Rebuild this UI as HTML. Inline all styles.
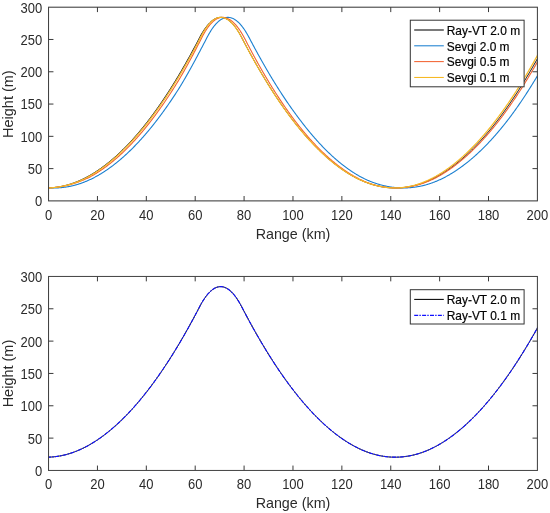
<!DOCTYPE html>
<html><head><meta charset="utf-8"><style>
html,body{margin:0;padding:0;background:#fff;}
svg{display:block;filter:blur(0.3px);}
text{font-family:"Liberation Sans",Arial,Helvetica,sans-serif;font-size:13.9px;fill:#2b2b2b;}
text.lab{font-size:14.3px;}
text.ylab{font-size:13.8px;}
text.leg{font-size:12.6px;fill:#000;stroke:#000;stroke-width:0.18px;}
</style></head><body>
<svg width="550" height="513" viewBox="0 0 550 513">
<rect width="550" height="513" fill="#fff"/>
<defs>
<clipPath id="c1"><rect x="48.55" y="7.2" width="488.84999999999997" height="193.70000000000002"/></clipPath>
<clipPath id="c2"><rect x="48.55" y="276.45" width="488.84999999999997" height="194.0"/></clipPath>
</defs>
<g clip-path="url(#c1)" fill="none" stroke-width="1.1" stroke-linejoin="round">
<path d="M47.00,187.94 L47.50,187.93 L48.00,187.92 L48.50,187.91 L49.00,187.89 L49.50,187.87 L50.00,187.84 L50.50,187.81 L51.00,187.78 L51.50,187.75 L52.00,187.71 L52.50,187.67 L53.00,187.63 L53.50,187.58 L54.00,187.53 L54.50,187.48 L55.00,187.42 L55.50,187.36 L56.00,187.29 L56.50,187.23 L57.00,187.16 L57.50,187.08 L58.00,187.01 L58.50,186.93 L59.00,186.84 L59.50,186.76 L60.00,186.67 L60.50,186.57 L61.00,186.48 L61.50,186.38 L62.00,186.27 L62.50,186.17 L63.00,186.06 L63.50,185.94 L64.00,185.83 L64.50,185.71 L65.00,185.59 L65.50,185.46 L66.00,185.33 L66.50,185.20 L67.00,185.06 L67.50,184.92 L68.00,184.78 L68.50,184.63 L69.00,184.49 L69.50,184.33 L70.00,184.18 L70.50,184.02 L71.00,183.86 L71.50,183.69 L72.00,183.52 L72.50,183.35 L73.00,183.17 L73.50,183.00 L74.00,182.81 L74.50,182.63 L75.00,182.44 L75.50,182.25 L76.00,182.05 L76.50,181.86 L77.00,181.65 L77.50,181.45 L78.00,181.24 L78.50,181.03 L79.00,180.81 L79.50,180.60 L80.00,180.37 L80.50,180.15 L81.00,179.92 L81.50,179.69 L82.00,179.46 L82.50,179.22 L83.00,178.98 L83.50,178.73 L84.00,178.49 L84.50,178.24 L85.00,177.98 L85.50,177.72 L86.00,177.46 L86.50,177.20 L87.00,176.93 L87.50,176.66 L88.00,176.39 L88.50,176.11 L89.00,175.83 L89.50,175.55 L90.00,175.26 L90.50,174.97 L91.00,174.68 L91.50,174.38 L92.00,174.08 L92.50,173.78 L93.00,173.47 L93.50,173.16 L94.00,172.85 L94.50,172.53 L95.00,172.21 L95.50,171.89 L96.00,171.56 L96.50,171.24 L97.00,170.90 L97.50,170.57 L98.00,170.23 L98.50,169.89 L99.00,169.55 L99.50,169.20 L100.00,168.85 L100.50,168.50 L101.00,168.14 L101.50,167.78 L102.00,167.42 L102.50,167.05 L103.00,166.69 L103.50,166.31 L104.00,165.94 L104.50,165.56 L105.00,165.18 L105.50,164.80 L106.00,164.41 L106.50,164.02 L107.00,163.63 L107.50,163.23 L108.00,162.83 L108.50,162.43 L109.00,162.02 L109.50,161.61 L110.00,161.20 L110.50,160.79 L111.00,160.37 L111.50,159.95 L112.00,159.52 L112.50,159.10 L113.00,158.67 L113.50,158.23 L114.00,157.80 L114.50,157.36 L115.00,156.91 L115.50,156.47 L116.00,156.02 L116.50,155.57 L117.00,155.11 L117.50,154.65 L118.00,154.19 L118.50,153.73 L119.00,153.26 L119.50,152.79 L120.00,152.32 L120.50,151.84 L121.00,151.36 L121.50,150.88 L122.00,150.39 L122.50,149.90 L123.00,149.41 L123.50,148.91 L124.00,148.42 L124.50,147.91 L125.00,147.41 L125.50,146.90 L126.00,146.39 L126.50,145.88 L127.00,145.36 L127.50,144.84 L128.00,144.32 L128.50,143.79 L129.00,143.26 L129.50,142.73 L130.00,142.19 L130.50,141.66 L131.00,141.11 L131.50,140.57 L132.00,140.02 L132.50,139.47 L133.00,138.92 L133.50,138.36 L134.00,137.80 L134.50,137.24 L135.00,136.67 L135.50,136.10 L136.00,135.53 L136.50,134.95 L137.00,134.37 L137.50,133.79 L138.00,133.21 L138.50,132.62 L139.00,132.03 L139.50,131.43 L140.00,130.84 L140.50,130.24 L141.00,129.63 L141.50,129.03 L142.00,128.42 L142.50,127.80 L143.00,127.19 L143.50,126.57 L144.00,125.95 L144.50,125.32 L145.00,124.69 L145.50,124.06 L146.00,123.43 L146.50,122.79 L147.00,122.15 L147.50,121.51 L148.00,120.86 L148.50,120.21 L149.00,119.56 L149.50,118.90 L150.00,118.24 L150.50,117.58 L151.00,116.91 L151.50,116.25 L152.00,115.57 L152.50,114.90 L153.00,114.22 L153.50,113.54 L154.00,112.86 L154.50,112.17 L155.00,111.48 L155.50,110.79 L156.00,110.09 L156.50,109.39 L157.00,108.69 L157.50,107.99 L158.00,107.28 L158.50,106.56 L159.00,105.85 L159.50,105.13 L160.00,104.41 L160.50,103.69 L161.00,102.96 L161.50,102.23 L162.00,101.50 L162.50,100.76 L163.00,100.02 L163.50,99.28 L164.00,98.53 L164.50,97.78 L165.00,97.03 L165.50,96.28 L166.00,95.52 L166.50,94.76 L167.00,93.99 L167.50,93.23 L168.00,92.46 L168.50,91.68 L169.00,90.91 L169.50,90.13 L170.00,89.35 L170.50,88.56 L171.00,87.77 L171.50,86.98 L172.00,86.18 L172.50,85.39 L173.00,84.58 L173.50,83.78 L174.00,82.97 L174.50,82.16 L175.00,81.35 L175.50,80.53 L176.00,79.71 L176.50,78.89 L177.00,78.06 L177.50,77.23 L178.00,76.40 L178.50,75.57 L179.00,74.73 L179.50,73.89 L180.00,73.04 L180.50,72.19 L181.00,71.34 L181.50,70.49 L182.00,69.63 L182.50,68.77 L183.00,67.91 L183.50,67.04 L184.00,66.18 L184.50,65.30 L185.00,64.43 L185.50,63.55 L186.00,62.67 L186.50,61.78 L187.00,60.89 L187.50,60.00 L188.00,59.11 L188.50,58.21 L189.00,57.31 L189.50,56.41 L190.00,55.50 L190.50,54.59 L191.00,53.68 L191.50,52.77 L192.00,51.85 L192.50,50.93 L193.00,50.00 L193.50,49.07 L194.00,48.14 L194.50,47.21 L195.00,46.27 L195.50,45.33 L196.00,44.39 L196.50,43.44 L197.00,42.49 L197.50,41.54 L198.00,40.58 L198.50,39.62 L199.00,38.66 L199.50,37.70 L200.00,36.75 L200.50,35.82 L201.00,34.91 L201.50,34.03 L202.00,33.17 L202.50,32.34 L203.00,31.52 L203.50,30.73 L204.00,29.96 L204.50,29.22 L205.00,28.50 L205.50,27.80 L206.00,27.12 L206.50,26.46 L207.00,25.83 L207.50,25.22 L208.00,24.64 L208.50,24.07 L209.00,23.53 L209.50,23.01 L210.00,22.52 L210.50,22.05 L211.00,21.60 L211.50,21.17 L212.00,20.77 L212.50,20.38 L213.00,20.03 L213.50,19.69 L214.00,19.38 L214.50,19.09 L215.00,18.82 L215.50,18.57 L216.00,18.35 L216.50,18.15 L217.00,17.97 L217.50,17.82 L218.00,17.69 L218.50,17.58 L219.00,17.50 L219.50,17.43 L220.00,17.39 L220.50,17.37 L221.00,17.38 L221.50,17.41 L222.00,17.46 L222.50,17.53 L223.00,17.63 L223.50,17.75 L224.00,17.89 L224.50,18.05 L225.00,18.24 L225.50,18.45 L226.00,18.68 L226.50,18.94 L227.00,19.22 L227.50,19.52 L228.00,19.84 L228.50,20.19 L229.00,20.56 L229.50,20.95 L230.00,21.37 L230.50,21.80 L231.00,22.26 L231.50,22.75 L232.00,23.25 L232.50,23.78 L233.00,24.33 L233.50,24.91 L234.00,25.50 L234.50,26.12 L235.00,26.76 L235.50,27.43 L236.00,28.12 L236.50,28.83 L237.00,29.56 L237.50,30.32 L238.00,31.10 L238.50,31.90 L239.00,32.72 L239.50,33.57 L240.00,34.44 L240.50,35.33 L241.00,36.25 L241.50,37.18 L242.00,38.14 L242.50,39.11 L243.00,40.07 L243.50,41.03 L244.00,41.98 L244.50,42.93 L245.00,43.88 L245.50,44.82 L246.00,45.77 L246.50,46.71 L247.00,47.64 L247.50,48.57 L248.00,49.50 L248.50,50.43 L249.00,51.35 L249.50,52.27 L250.00,53.19 L250.50,54.11 L251.00,55.02 L251.50,55.92 L252.00,56.83 L252.50,57.73 L253.00,58.63 L253.50,59.53 L254.00,60.42 L254.50,61.31 L255.00,62.19 L255.50,63.08 L256.00,63.96 L256.50,64.83 L257.00,65.71 L257.50,66.58 L258.00,67.45 L258.50,68.31 L259.00,69.17 L259.50,70.03 L260.00,70.89 L260.50,71.74 L261.00,72.59 L261.50,73.43 L262.00,74.28 L262.50,75.12 L263.00,75.95 L263.50,76.79 L264.00,77.62 L264.50,78.45 L265.00,79.27 L265.50,80.09 L266.00,80.91 L266.50,81.73 L267.00,82.54 L267.50,83.35 L268.00,84.15 L268.50,84.96 L269.00,85.76 L269.50,86.55 L270.00,87.35 L270.50,88.14 L271.00,88.92 L271.50,89.71 L272.00,90.49 L272.50,91.27 L273.00,92.04 L273.50,92.82 L274.00,93.58 L274.50,94.35 L275.00,95.11 L275.50,95.87 L276.00,96.63 L276.50,97.38 L277.00,98.13 L277.50,98.88 L278.00,99.62 L278.50,100.37 L279.00,101.10 L279.50,101.84 L280.00,102.57 L280.50,103.30 L281.00,104.02 L281.50,104.75 L282.00,105.47 L282.50,106.18 L283.00,106.90 L283.50,107.61 L284.00,108.31 L284.50,109.02 L285.00,109.72 L285.50,110.42 L286.00,111.11 L286.50,111.80 L287.00,112.49 L287.50,113.18 L288.00,113.86 L288.50,114.54 L289.00,115.21 L289.50,115.89 L290.00,116.56 L290.50,117.22 L291.00,117.89 L291.50,118.55 L292.00,119.21 L292.50,119.86 L293.00,120.51 L293.50,121.16 L294.00,121.81 L294.50,122.45 L295.00,123.09 L295.50,123.72 L296.00,124.36 L296.50,124.99 L297.00,125.61 L297.50,126.24 L298.00,126.86 L298.50,127.47 L299.00,128.09 L299.50,128.70 L300.00,129.31 L300.50,129.91 L301.00,130.51 L301.50,131.11 L302.00,131.71 L302.50,132.30 L303.00,132.89 L303.50,133.48 L304.00,134.06 L304.50,134.64 L305.00,135.22 L305.50,135.79 L306.00,136.36 L306.50,136.93 L307.00,137.50 L307.50,138.06 L308.00,138.62 L308.50,139.17 L309.00,139.73 L309.50,140.28 L310.00,140.82 L310.50,141.37 L311.00,141.91 L311.50,142.44 L312.00,142.98 L312.50,143.51 L313.00,144.04 L313.50,144.56 L314.00,145.08 L314.50,145.60 L315.00,146.12 L315.50,146.63 L316.00,147.14 L316.50,147.64 L317.00,148.15 L317.50,148.65 L318.00,149.14 L318.50,149.64 L319.00,150.13 L319.50,150.62 L320.00,151.10 L320.50,151.58 L321.00,152.06 L321.50,152.54 L322.00,153.01 L322.50,153.48 L323.00,153.94 L323.50,154.41 L324.00,154.87 L324.50,155.32 L325.00,155.78 L325.50,156.23 L326.00,156.67 L326.50,157.12 L327.00,157.56 L327.50,158.00 L328.00,158.43 L328.50,158.87 L329.00,159.29 L329.50,159.72 L330.00,160.14 L330.50,160.56 L331.00,160.98 L331.50,161.39 L332.00,161.80 L332.50,162.21 L333.00,162.61 L333.50,163.02 L334.00,163.41 L334.50,163.81 L335.00,164.20 L335.50,164.59 L336.00,164.97 L336.50,165.36 L337.00,165.74 L337.50,166.11 L338.00,166.49 L338.50,166.86 L339.00,167.22 L339.50,167.59 L340.00,167.95 L340.50,168.31 L341.00,168.66 L341.50,169.01 L342.00,169.36 L342.50,169.71 L343.00,170.05 L343.50,170.39 L344.00,170.72 L344.50,171.06 L345.00,171.39 L345.50,171.72 L346.00,172.04 L346.50,172.36 L347.00,172.68 L347.50,172.99 L348.00,173.30 L348.50,173.61 L349.00,173.92 L349.50,174.22 L350.00,174.52 L350.50,174.81 L351.00,175.10 L351.50,175.39 L352.00,175.68 L352.50,175.96 L353.00,176.24 L353.50,176.52 L354.00,176.79 L354.50,177.06 L355.00,177.32 L355.50,177.58 L356.00,177.84 L356.50,178.10 L357.00,178.35 L357.50,178.60 L358.00,178.85 L358.50,179.09 L359.00,179.33 L359.50,179.57 L360.00,179.80 L360.50,180.03 L361.00,180.26 L361.50,180.48 L362.00,180.70 L362.50,180.91 L363.00,181.13 L363.50,181.34 L364.00,181.54 L364.50,181.75 L365.00,181.95 L365.50,182.14 L366.00,182.34 L366.50,182.53 L367.00,182.72 L367.50,182.90 L368.00,183.08 L368.50,183.26 L369.00,183.43 L369.50,183.60 L370.00,183.77 L370.50,183.93 L371.00,184.09 L371.50,184.25 L372.00,184.40 L372.50,184.55 L373.00,184.70 L373.50,184.85 L374.00,184.99 L374.50,185.13 L375.00,185.26 L375.50,185.39 L376.00,185.52 L376.50,185.64 L377.00,185.76 L377.50,185.88 L378.00,186.00 L378.50,186.11 L379.00,186.22 L379.50,186.32 L380.00,186.42 L380.50,186.52 L381.00,186.62 L381.50,186.71 L382.00,186.80 L382.50,186.88 L383.00,186.96 L383.50,187.04 L384.00,187.12 L384.50,187.19 L385.00,187.26 L385.50,187.32 L386.00,187.39 L386.50,187.45 L387.00,187.50 L387.50,187.55 L388.00,187.60 L388.50,187.65 L389.00,187.69 L389.50,187.73 L390.00,187.77 L390.50,187.80 L391.00,187.83 L391.50,187.85 L392.00,187.88 L392.50,187.90 L393.00,187.91 L393.50,187.93 L394.00,187.94 L394.50,187.94 L395.00,187.94 L395.50,187.94 L396.00,187.94 L396.50,187.93 L397.00,187.92 L397.50,187.91 L398.00,187.89 L398.50,187.87 L399.00,187.85 L399.50,187.83 L400.00,187.80 L400.50,187.76 L401.00,187.73 L401.50,187.69 L402.00,187.64 L402.50,187.60 L403.00,187.55 L403.50,187.50 L404.00,187.44 L404.50,187.38 L405.00,187.32 L405.50,187.25 L406.00,187.18 L406.50,187.11 L407.00,187.03 L407.50,186.96 L408.00,186.87 L408.50,186.79 L409.00,186.70 L409.50,186.61 L410.00,186.51 L410.50,186.41 L411.00,186.31 L411.50,186.21 L412.00,186.10 L412.50,185.99 L413.00,185.87 L413.50,185.75 L414.00,185.63 L414.50,185.51 L415.00,185.38 L415.50,185.25 L416.00,185.11 L416.50,184.97 L417.00,184.83 L417.50,184.69 L418.00,184.54 L418.50,184.39 L419.00,184.23 L419.50,184.08 L420.00,183.91 L420.50,183.75 L421.00,183.58 L421.50,183.41 L422.00,183.24 L422.50,183.06 L423.00,182.88 L423.50,182.70 L424.00,182.51 L424.50,182.32 L425.00,182.12 L425.50,181.93 L426.00,181.73 L426.50,181.52 L427.00,181.32 L427.50,181.11 L428.00,180.89 L428.50,180.68 L429.00,180.46 L429.50,180.23 L430.00,180.01 L430.50,179.78 L431.00,179.54 L431.50,179.31 L432.00,179.07 L432.50,178.82 L433.00,178.58 L433.50,178.33 L434.00,178.07 L434.50,177.82 L435.00,177.56 L435.50,177.29 L436.00,177.03 L436.50,176.76 L437.00,176.49 L437.50,176.21 L438.00,175.93 L438.50,175.65 L439.00,175.36 L439.50,175.07 L440.00,174.78 L440.50,174.49 L441.00,174.19 L441.50,173.89 L442.00,173.58 L442.50,173.27 L443.00,172.96 L443.50,172.64 L444.00,172.33 L444.50,172.01 L445.00,171.68 L445.50,171.35 L446.00,171.02 L446.50,170.69 L447.00,170.35 L447.50,170.01 L448.00,169.67 L448.50,169.33 L449.00,168.98 L449.50,168.62 L450.00,168.27 L450.50,167.91 L451.00,167.55 L451.50,167.19 L452.00,166.82 L452.50,166.45 L453.00,166.07 L453.50,165.70 L454.00,165.32 L454.50,164.93 L455.00,164.55 L455.50,164.16 L456.00,163.77 L456.50,163.37 L457.00,162.97 L457.50,162.57 L458.00,162.17 L458.50,161.76 L459.00,161.35 L459.50,160.94 L460.00,160.52 L460.50,160.10 L461.00,159.68 L461.50,159.25 L462.00,158.82 L462.50,158.39 L463.00,157.95 L463.50,157.51 L464.00,157.07 L464.50,156.63 L465.00,156.18 L465.50,155.73 L466.00,155.28 L466.50,154.82 L467.00,154.36 L467.50,153.89 L468.00,153.43 L468.50,152.96 L469.00,152.49 L469.50,152.01 L470.00,151.53 L470.50,151.05 L471.00,150.57 L471.50,150.08 L472.00,149.59 L472.50,149.09 L473.00,148.60 L473.50,148.09 L474.00,147.59 L474.50,147.08 L475.00,146.58 L475.50,146.06 L476.00,145.55 L476.50,145.03 L477.00,144.51 L477.50,143.98 L478.00,143.45 L478.50,142.92 L479.00,142.39 L479.50,141.85 L480.00,141.31 L480.50,140.77 L481.00,140.22 L481.50,139.67 L482.00,139.12 L482.50,138.56 L483.00,138.00 L483.50,137.44 L484.00,136.87 L484.50,136.31 L485.00,135.73 L485.50,135.16 L486.00,134.58 L486.50,134.00 L487.00,133.42 L487.50,132.83 L488.00,132.24 L488.50,131.65 L489.00,131.05 L489.50,130.45 L490.00,129.85 L490.50,129.24 L491.00,128.64 L491.50,128.02 L492.00,127.41 L492.50,126.79 L493.00,126.17 L493.50,125.55 L494.00,124.92 L494.50,124.29 L495.00,123.66 L495.50,123.02 L496.00,122.38 L496.50,121.74 L497.00,121.09 L497.50,120.44 L498.00,119.79 L498.50,119.14 L499.00,118.48 L499.50,117.82 L500.00,117.15 L500.50,116.49 L501.00,115.82 L501.50,115.14 L502.00,114.47 L502.50,113.79 L503.00,113.10 L503.50,112.42 L504.00,111.73 L504.50,111.04 L505.00,110.34 L505.50,109.65 L506.00,108.94 L506.50,108.24 L507.00,107.53 L507.50,106.82 L508.00,106.11 L508.50,105.39 L509.00,104.67 L509.50,103.95 L510.00,103.22 L510.50,102.49 L511.00,101.76 L511.50,101.03 L512.00,100.29 L512.50,99.55 L513.00,98.80 L513.50,98.05 L514.00,97.30 L514.50,96.55 L515.00,95.79 L515.50,95.03 L516.00,94.27 L516.50,93.50 L517.00,92.74 L517.50,91.96 L518.00,91.19 L518.50,90.41 L519.00,89.63 L519.50,88.84 L520.00,88.06 L520.50,87.26 L521.00,86.47 L521.50,85.67 L522.00,84.87 L522.50,84.07 L523.00,83.26 L523.50,82.45 L524.00,81.64 L524.50,80.83 L525.00,80.01 L525.50,79.19 L526.00,78.36 L526.50,77.53 L527.00,76.70 L527.50,75.87 L528.00,75.03 L528.50,74.19 L529.00,73.35 L529.50,72.50 L530.00,71.65 L530.50,70.80 L531.00,69.94 L531.50,69.08 L532.00,68.22 L532.50,67.36 L533.00,66.49 L533.50,65.62 L534.00,64.74 L534.50,63.87 L535.00,62.99 L535.50,62.10 L536.00,61.22 L536.50,60.33 L537.00,59.43 L537.50,58.54 L538.00,57.64 L538.50,56.74 L539.00,55.83" stroke="#000000" stroke-width="1.0"/>
<path d="M47.00,187.59 L47.50,187.64 L48.00,187.68 L48.50,187.72 L49.00,187.76 L49.50,187.79 L50.00,187.82 L50.50,187.85 L51.00,187.87 L51.50,187.89 L52.00,187.91 L52.50,187.92 L53.00,187.93 L53.50,187.94 L54.00,187.94 L54.50,187.94 L55.00,187.94 L55.50,187.94 L56.00,187.93 L56.50,187.91 L57.00,187.90 L57.50,187.88 L58.00,187.86 L58.50,187.83 L59.00,187.80 L59.50,187.77 L60.00,187.74 L60.50,187.70 L61.00,187.66 L61.50,187.61 L62.00,187.56 L62.50,187.51 L63.00,187.45 L63.50,187.40 L64.00,187.33 L64.50,187.27 L65.00,187.20 L65.50,187.13 L66.00,187.06 L66.50,186.98 L67.00,186.90 L67.50,186.81 L68.00,186.72 L68.50,186.63 L69.00,186.54 L69.50,186.44 L70.00,186.34 L70.50,186.23 L71.00,186.13 L71.50,186.02 L72.00,185.90 L72.50,185.79 L73.00,185.66 L73.50,185.54 L74.00,185.41 L74.50,185.28 L75.00,185.15 L75.50,185.01 L76.00,184.87 L76.50,184.73 L77.00,184.58 L77.50,184.43 L78.00,184.28 L78.50,184.12 L79.00,183.96 L79.50,183.80 L80.00,183.63 L80.50,183.46 L81.00,183.29 L81.50,183.11 L82.00,182.93 L82.50,182.75 L83.00,182.56 L83.50,182.37 L84.00,182.18 L84.50,181.99 L85.00,181.79 L85.50,181.58 L86.00,181.38 L86.50,181.17 L87.00,180.96 L87.50,180.74 L88.00,180.52 L88.50,180.30 L89.00,180.07 L89.50,179.84 L90.00,179.61 L90.50,179.38 L91.00,179.14 L91.50,178.90 L92.00,178.65 L92.50,178.40 L93.00,178.15 L93.50,177.90 L94.00,177.64 L94.50,177.38 L95.00,177.11 L95.50,176.84 L96.00,176.57 L96.50,176.30 L97.00,176.02 L97.50,175.74 L98.00,175.45 L98.50,175.17 L99.00,174.88 L99.50,174.58 L100.00,174.28 L100.50,173.98 L101.00,173.68 L101.50,173.37 L102.00,173.06 L102.50,172.75 L103.00,172.43 L103.50,172.11 L104.00,171.79 L104.50,171.46 L105.00,171.13 L105.50,170.80 L106.00,170.46 L106.50,170.13 L107.00,169.78 L107.50,169.44 L108.00,169.09 L108.50,168.74 L109.00,168.39 L109.50,168.03 L110.00,167.67 L110.50,167.31 L111.00,166.94 L111.50,166.57 L112.00,166.20 L112.50,165.82 L113.00,165.45 L113.50,165.06 L114.00,164.68 L114.50,164.29 L115.00,163.90 L115.50,163.51 L116.00,163.11 L116.50,162.71 L117.00,162.31 L117.50,161.90 L118.00,161.49 L118.50,161.08 L119.00,160.66 L119.50,160.25 L120.00,159.82 L120.50,159.40 L121.00,158.97 L121.50,158.54 L122.00,158.11 L122.50,157.67 L123.00,157.23 L123.50,156.79 L124.00,156.34 L124.50,155.89 L125.00,155.44 L125.50,154.98 L126.00,154.52 L126.50,154.06 L127.00,153.60 L127.50,153.13 L128.00,152.66 L128.50,152.18 L129.00,151.71 L129.50,151.23 L130.00,150.74 L130.50,150.26 L131.00,149.77 L131.50,149.27 L132.00,148.78 L132.50,148.28 L133.00,147.78 L133.50,147.27 L134.00,146.76 L134.50,146.25 L135.00,145.74 L135.50,145.22 L136.00,144.70 L136.50,144.18 L137.00,143.65 L137.50,143.12 L138.00,142.59 L138.50,142.05 L139.00,141.51 L139.50,140.97 L140.00,140.43 L140.50,139.88 L141.00,139.33 L141.50,138.77 L142.00,138.22 L142.50,137.65 L143.00,137.09 L143.50,136.52 L144.00,135.95 L144.50,135.38 L145.00,134.81 L145.50,134.23 L146.00,133.64 L146.50,133.06 L147.00,132.47 L147.50,131.88 L148.00,131.29 L148.50,130.69 L149.00,130.09 L149.50,129.48 L150.00,128.88 L150.50,128.27 L151.00,127.65 L151.50,127.04 L152.00,126.42 L152.50,125.80 L153.00,125.17 L153.50,124.54 L154.00,123.91 L154.50,123.28 L155.00,122.64 L155.50,122.00 L156.00,121.35 L156.50,120.71 L157.00,120.06 L157.50,119.40 L158.00,118.75 L158.50,118.09 L159.00,117.43 L159.50,116.76 L160.00,116.09 L160.50,115.42 L161.00,114.75 L161.50,114.07 L162.00,113.39 L162.50,112.70 L163.00,112.02 L163.50,111.33 L164.00,110.63 L164.50,109.94 L165.00,109.24 L165.50,108.53 L166.00,107.83 L166.50,107.12 L167.00,106.41 L167.50,105.69 L168.00,104.98 L168.50,104.25 L169.00,103.53 L169.50,102.80 L170.00,102.07 L170.50,101.34 L171.00,100.60 L171.50,99.86 L172.00,99.12 L172.50,98.38 L173.00,97.63 L173.50,96.87 L174.00,96.12 L174.50,95.36 L175.00,94.60 L175.50,93.84 L176.00,93.07 L176.50,92.30 L177.00,91.53 L177.50,90.75 L178.00,89.97 L178.50,89.19 L179.00,88.40 L179.50,87.61 L180.00,86.82 L180.50,85.99 L181.00,85.15 L181.50,84.31 L182.00,83.47 L182.50,82.63 L183.00,81.78 L183.50,80.93 L184.00,80.07 L184.50,79.21 L185.00,78.35 L185.50,77.49 L186.00,76.62 L186.50,75.75 L187.00,74.87 L187.50,73.99 L188.00,73.11 L188.50,72.22 L189.00,71.34 L189.50,70.44 L190.00,69.55 L190.50,68.65 L191.00,67.75 L191.50,66.84 L192.00,65.93 L192.50,65.02 L193.00,64.10 L193.50,63.18 L194.00,62.26 L194.50,61.33 L195.00,60.41 L195.50,59.47 L196.00,58.54 L196.50,57.60 L197.00,56.65 L197.50,55.71 L198.00,54.76 L198.50,53.80 L199.00,52.85 L199.50,51.89 L200.00,50.93 L200.50,49.99 L201.00,49.05 L201.50,48.11 L202.00,47.17 L202.50,46.22 L203.00,45.27 L203.50,44.32 L204.00,43.36 L204.50,42.40 L205.00,41.44 L205.50,40.47 L206.00,39.50 L206.50,38.53 L207.00,37.55 L207.50,36.60 L208.00,35.66 L208.50,34.75 L209.00,33.86 L209.50,33.00 L210.00,32.16 L210.50,31.34 L211.00,30.55 L211.50,29.78 L212.00,29.03 L212.50,28.31 L213.00,27.60 L213.50,26.93 L214.00,26.27 L214.50,25.64 L215.00,25.03 L215.50,24.45 L216.00,23.89 L216.50,23.35 L217.00,22.83 L217.50,22.34 L218.00,21.87 L218.50,21.43 L219.00,21.00 L219.50,20.60 L220.00,20.23 L220.50,19.88 L221.00,19.55 L221.50,19.24 L222.00,18.96 L222.50,18.70 L223.00,18.46 L223.50,18.25 L224.00,18.06 L224.50,17.89 L225.00,17.75 L225.50,17.63 L226.00,17.53 L226.50,17.46 L227.00,17.41 L227.50,17.38 L228.00,17.38 L228.50,17.39 L229.00,17.43 L229.50,17.50 L230.00,17.58 L230.50,17.69 L231.00,17.82 L231.50,17.97 L232.00,18.15 L232.50,18.35 L233.00,18.57 L233.50,18.81 L234.00,19.07 L234.50,19.36 L235.00,19.67 L235.50,20.00 L236.00,20.35 L236.50,20.73 L237.00,21.13 L237.50,21.55 L238.00,21.99 L238.50,22.46 L239.00,22.94 L239.50,23.45 L240.00,23.98 L240.50,24.54 L241.00,25.12 L241.50,25.72 L242.00,26.34 L242.50,26.98 L243.00,27.65 L243.50,28.33 L244.00,29.05 L244.50,29.78 L245.00,30.53 L245.50,31.31 L246.00,32.11 L246.50,32.93 L247.00,33.78 L247.50,34.65 L248.00,35.54 L248.50,36.45 L249.00,37.38 L249.50,38.33 L250.00,39.29 L250.50,40.24 L251.00,41.19 L251.50,42.13 L252.00,43.07 L252.50,44.01 L253.00,44.95 L253.50,45.88 L254.00,46.81 L254.50,47.74 L255.00,48.66 L255.50,49.58 L256.00,50.50 L256.50,51.41 L257.00,52.33 L257.50,53.23 L258.00,54.14 L258.50,55.04 L259.00,55.94 L259.50,56.84 L260.00,57.73 L260.50,58.63 L261.00,59.53 L261.50,60.42 L262.00,61.31 L262.50,62.19 L263.00,63.08 L263.50,63.96 L264.00,64.83 L264.50,65.71 L265.00,66.58 L265.50,67.45 L266.00,68.31 L266.50,69.17 L267.00,70.03 L267.50,70.89 L268.00,71.74 L268.50,72.59 L269.00,73.43 L269.50,74.28 L270.00,75.12 L270.50,75.95 L271.00,76.79 L271.50,77.62 L272.00,78.45 L272.50,79.27 L273.00,80.09 L273.50,80.91 L274.00,81.73 L274.50,82.54 L275.00,83.35 L275.50,84.15 L276.00,84.96 L276.50,85.76 L277.00,86.55 L277.50,87.35 L278.00,88.14 L278.50,88.92 L279.00,89.71 L279.50,90.49 L280.00,91.27 L280.50,92.04 L281.00,92.82 L281.50,93.58 L282.00,94.35 L282.50,95.11 L283.00,95.87 L283.50,96.63 L284.00,97.38 L284.50,98.13 L285.00,98.88 L285.50,99.62 L286.00,100.37 L286.50,101.10 L287.00,101.84 L287.50,102.57 L288.00,103.30 L288.50,104.02 L289.00,104.75 L289.50,105.47 L290.00,106.18 L290.50,106.90 L291.00,107.61 L291.50,108.31 L292.00,109.02 L292.50,109.72 L293.00,110.42 L293.50,111.11 L294.00,111.80 L294.50,112.49 L295.00,113.18 L295.50,113.86 L296.00,114.54 L296.50,115.21 L297.00,115.89 L297.50,116.56 L298.00,117.22 L298.50,117.89 L299.00,118.55 L299.50,119.21 L300.00,119.86 L300.50,120.52 L301.00,121.18 L301.50,121.84 L302.00,122.49 L302.50,123.14 L303.00,123.79 L303.50,124.43 L304.00,125.07 L304.50,125.71 L305.00,126.34 L305.50,126.98 L306.00,127.60 L306.50,128.23 L307.00,128.85 L307.50,129.47 L308.00,130.08 L308.50,130.69 L309.00,131.30 L309.50,131.91 L310.00,132.51 L310.50,133.11 L311.00,133.70 L311.50,134.30 L312.00,134.88 L312.50,135.47 L313.00,136.05 L313.50,136.63 L314.00,137.21 L314.50,137.78 L315.00,138.35 L315.50,138.92 L316.00,139.48 L316.50,140.04 L317.00,140.60 L317.50,141.16 L318.00,141.71 L318.50,142.25 L319.00,142.80 L319.50,143.34 L320.00,143.88 L320.50,144.41 L321.00,144.94 L321.50,145.47 L322.00,146.00 L322.50,146.52 L323.00,147.04 L323.50,147.55 L324.00,148.07 L324.50,148.58 L325.00,149.08 L325.50,149.58 L326.00,150.08 L326.50,150.58 L327.00,151.07 L327.50,151.56 L328.00,152.05 L328.50,152.53 L329.00,153.01 L329.50,153.49 L330.00,153.97 L330.50,154.44 L331.00,154.90 L331.50,155.37 L332.00,155.83 L332.50,156.29 L333.00,156.74 L333.50,157.19 L334.00,157.64 L334.50,158.09 L335.00,158.53 L335.50,158.97 L336.00,159.41 L336.50,159.84 L337.00,160.27 L337.50,160.69 L338.00,161.12 L338.50,161.54 L339.00,161.95 L339.50,162.37 L340.00,162.78 L340.50,163.18 L341.00,163.58 L341.50,163.98 L342.00,164.37 L342.50,164.77 L343.00,165.16 L343.50,165.54 L344.00,165.92 L344.50,166.30 L345.00,166.68 L345.50,167.05 L346.00,167.42 L346.50,167.79 L347.00,168.15 L347.50,168.51 L348.00,168.87 L348.50,169.22 L349.00,169.57 L349.50,169.92 L350.00,170.27 L350.50,170.61 L351.00,170.95 L351.50,171.28 L352.00,171.61 L352.50,171.94 L353.00,172.27 L353.50,172.59 L354.00,172.91 L354.50,173.23 L355.00,173.54 L355.50,173.85 L356.00,174.15 L356.50,174.46 L357.00,174.76 L357.50,175.05 L358.00,175.34 L358.50,175.63 L359.00,175.92 L359.50,176.20 L360.00,176.48 L360.50,176.76 L361.00,177.03 L361.50,177.30 L362.00,177.57 L362.50,177.83 L363.00,178.09 L363.50,178.34 L364.00,178.60 L364.50,178.84 L365.00,179.09 L365.50,179.32 L366.00,179.55 L366.50,179.77 L367.00,179.99 L367.50,180.21 L368.00,180.42 L368.50,180.63 L369.00,180.84 L369.50,181.04 L370.00,181.25 L370.50,181.45 L371.00,181.64 L371.50,181.84 L372.00,182.03 L372.50,182.21 L373.00,182.40 L373.50,182.58 L374.00,182.76 L374.50,182.93 L375.00,183.10 L375.50,183.27 L376.00,183.44 L376.50,183.60 L377.00,183.76 L377.50,183.92 L378.00,184.07 L378.50,184.22 L379.00,184.37 L379.50,184.52 L380.00,184.66 L380.50,184.80 L381.00,184.93 L381.50,185.07 L382.00,185.20 L382.50,185.32 L383.00,185.45 L383.50,185.57 L384.00,185.69 L384.50,185.80 L385.00,185.91 L385.50,186.02 L386.00,186.13 L386.50,186.23 L387.00,186.33 L387.50,186.43 L388.00,186.52 L388.50,186.61 L389.00,186.70 L389.50,186.79 L390.00,186.87 L390.50,186.95 L391.00,187.02 L391.50,187.10 L392.00,187.17 L392.50,187.23 L393.00,187.30 L393.50,187.36 L394.00,187.42 L394.50,187.47 L395.00,187.52 L395.50,187.57 L396.00,187.62 L396.50,187.66 L397.00,187.70 L397.50,187.74 L398.00,187.77 L398.50,187.80 L399.00,187.83 L399.50,187.85 L400.00,187.88 L400.50,187.90 L401.00,187.91 L401.50,187.92 L402.00,187.93 L402.50,187.94 L403.00,187.94 L403.50,187.94 L404.00,187.94 L404.50,187.94 L405.00,187.93 L405.50,187.92 L406.00,187.90 L406.50,187.89 L407.00,187.86 L407.50,187.84 L408.00,187.81 L408.50,187.79 L409.00,187.75 L409.50,187.72 L410.00,187.68 L410.50,187.64 L411.00,187.59 L411.50,187.54 L412.00,187.49 L412.50,187.44 L413.00,187.38 L413.50,187.32 L414.00,187.26 L414.50,187.19 L415.00,187.13 L415.50,187.05 L416.00,186.98 L416.50,186.90 L417.00,186.82 L417.50,186.73 L418.00,186.65 L418.50,186.56 L419.00,186.46 L419.50,186.37 L420.00,186.27 L420.50,186.17 L421.00,186.06 L421.50,185.95 L422.00,185.84 L422.50,185.73 L423.00,185.61 L423.50,185.49 L424.00,185.37 L424.50,185.24 L425.00,185.11 L425.50,184.97 L426.00,184.84 L426.50,184.69 L427.00,184.55 L427.50,184.40 L428.00,184.25 L428.50,184.09 L429.00,183.93 L429.50,183.77 L430.00,183.60 L430.50,183.44 L431.00,183.26 L431.50,183.09 L432.00,182.91 L432.50,182.73 L433.00,182.55 L433.50,182.36 L434.00,182.17 L434.50,181.97 L435.00,181.78 L435.50,181.58 L436.00,181.37 L436.50,181.17 L437.00,180.96 L437.50,180.74 L438.00,180.53 L438.50,180.31 L439.00,180.08 L439.50,179.86 L440.00,179.63 L440.50,179.40 L441.00,179.16 L441.50,178.92 L442.00,178.68 L442.50,178.44 L443.00,178.19 L443.50,177.94 L444.00,177.68 L444.50,177.42 L445.00,177.16 L445.50,176.90 L446.00,176.63 L446.50,176.36 L447.00,176.09 L447.50,175.81 L448.00,175.53 L448.50,175.24 L449.00,174.96 L449.50,174.67 L450.00,174.37 L450.50,174.08 L451.00,173.78 L451.50,173.48 L452.00,173.17 L452.50,172.86 L453.00,172.55 L453.50,172.23 L454.00,171.92 L454.50,171.60 L455.00,171.27 L455.50,170.94 L456.00,170.61 L456.50,170.28 L457.00,169.95 L457.50,169.61 L458.00,169.27 L458.50,168.92 L459.00,168.57 L459.50,168.22 L460.00,167.87 L460.50,167.51 L461.00,167.15 L461.50,166.79 L462.00,166.43 L462.50,166.06 L463.00,165.69 L463.50,165.31 L464.00,164.93 L464.50,164.55 L465.00,164.17 L465.50,163.78 L466.00,163.39 L466.50,163.00 L467.00,162.61 L467.50,162.21 L468.00,161.81 L468.50,161.40 L469.00,161.00 L469.50,160.58 L470.00,160.17 L470.50,159.75 L471.00,159.34 L471.50,158.91 L472.00,158.49 L472.50,158.06 L473.00,157.63 L473.50,157.19 L474.00,156.76 L474.50,156.31 L475.00,155.87 L475.50,155.42 L476.00,154.98 L476.50,154.52 L477.00,154.07 L477.50,153.61 L478.00,153.15 L478.50,152.68 L479.00,152.22 L479.50,151.74 L480.00,151.27 L480.50,150.79 L481.00,150.32 L481.50,149.83 L482.00,149.35 L482.50,148.86 L483.00,148.37 L483.50,147.87 L484.00,147.37 L484.50,146.87 L485.00,146.37 L485.50,145.86 L486.00,145.35 L486.50,144.83 L487.00,144.31 L487.50,143.79 L488.00,143.27 L488.50,142.74 L489.00,142.21 L489.50,141.67 L490.00,141.14 L490.50,140.60 L491.00,140.05 L491.50,139.51 L492.00,138.96 L492.50,138.40 L493.00,137.85 L493.50,137.29 L494.00,136.73 L494.50,136.16 L495.00,135.60 L495.50,135.03 L496.00,134.45 L496.50,133.88 L497.00,133.30 L497.50,132.71 L498.00,132.13 L498.50,131.54 L499.00,130.95 L499.50,130.35 L500.00,129.75 L500.50,129.15 L501.00,128.55 L501.50,127.94 L502.00,127.33 L502.50,126.72 L503.00,126.10 L503.50,125.48 L504.00,124.86 L504.50,124.23 L505.00,123.61 L505.50,122.97 L506.00,122.34 L506.50,121.70 L507.00,121.06 L507.50,120.42 L508.00,119.77 L508.50,119.12 L509.00,118.47 L509.50,117.81 L510.00,117.15 L510.50,116.48 L511.00,115.81 L511.50,115.14 L512.00,114.46 L512.50,113.77 L513.00,113.09 L513.50,112.40 L514.00,111.71 L514.50,111.02 L515.00,110.32 L515.50,109.62 L516.00,108.91 L516.50,108.21 L517.00,107.50 L517.50,106.78 L518.00,106.07 L518.50,105.35 L519.00,104.62 L519.50,103.90 L520.00,103.17 L520.50,102.44 L521.00,101.70 L521.50,100.96 L522.00,100.22 L522.50,99.48 L523.00,98.73 L523.50,97.98 L524.00,97.23 L524.50,96.47 L525.00,95.71 L525.50,94.95 L526.00,94.18 L526.50,93.41 L527.00,92.64 L527.50,91.86 L528.00,91.08 L528.50,90.30 L529.00,89.52 L529.50,88.73 L530.00,87.94 L530.50,87.14 L531.00,86.35 L531.50,85.55 L532.00,84.74 L532.50,83.94 L533.00,83.13 L533.50,82.31 L534.00,81.50 L534.50,80.68 L535.00,79.86 L535.50,79.03 L536.00,78.20 L536.50,77.37 L537.00,76.54 L537.50,75.70 L538.00,74.86 L538.50,74.02 L539.00,73.18" stroke="#1a7fd0"/>
<path d="M47.00,187.94 L47.50,187.93 L48.00,187.92 L48.50,187.91 L49.00,187.89 L49.50,187.87 L50.00,187.85 L50.50,187.82 L51.00,187.80 L51.50,187.77 L52.00,187.73 L52.50,187.70 L53.00,187.66 L53.50,187.62 L54.00,187.57 L54.50,187.53 L55.00,187.48 L55.50,187.42 L56.00,187.37 L56.50,187.31 L57.00,187.25 L57.50,187.18 L58.00,187.12 L58.50,187.05 L59.00,186.97 L59.50,186.90 L60.00,186.82 L60.50,186.74 L61.00,186.65 L61.50,186.57 L62.00,186.48 L62.50,186.38 L63.00,186.29 L63.50,186.19 L64.00,186.09 L64.50,185.99 L65.00,185.88 L65.50,185.77 L66.00,185.66 L66.50,185.54 L67.00,185.42 L67.50,185.30 L68.00,185.18 L68.50,185.05 L69.00,184.92 L69.50,184.79 L70.00,184.66 L70.50,184.52 L71.00,184.38 L71.50,184.23 L72.00,184.09 L72.50,183.94 L73.00,183.79 L73.50,183.63 L74.00,183.47 L74.50,183.31 L75.00,183.15 L75.50,182.98 L76.00,182.81 L76.50,182.64 L77.00,182.47 L77.50,182.29 L78.00,182.11 L78.50,181.93 L79.00,181.74 L79.50,181.55 L80.00,181.36 L80.50,181.17 L81.00,180.97 L81.50,180.77 L82.00,180.56 L82.50,180.36 L83.00,180.15 L83.50,179.94 L84.00,179.72 L84.50,179.51 L85.00,179.29 L85.50,179.06 L86.00,178.84 L86.50,178.61 L87.00,178.38 L87.50,178.15 L88.00,177.91 L88.50,177.67 L89.00,177.43 L89.50,177.18 L90.00,176.93 L90.50,176.66 L91.00,176.39 L91.50,176.11 L92.00,175.83 L92.50,175.55 L93.00,175.26 L93.50,174.97 L94.00,174.68 L94.50,174.38 L95.00,174.08 L95.50,173.78 L96.00,173.47 L96.50,173.16 L97.00,172.85 L97.50,172.53 L98.00,172.21 L98.50,171.89 L99.00,171.56 L99.50,171.24 L100.00,170.90 L100.50,170.57 L101.00,170.23 L101.50,169.89 L102.00,169.55 L102.50,169.20 L103.00,168.85 L103.50,168.50 L104.00,168.14 L104.50,167.78 L105.00,167.42 L105.50,167.05 L106.00,166.69 L106.50,166.31 L107.00,165.94 L107.50,165.56 L108.00,165.18 L108.50,164.80 L109.00,164.41 L109.50,164.02 L110.00,163.63 L110.50,163.23 L111.00,162.83 L111.50,162.43 L112.00,162.02 L112.50,161.61 L113.00,161.20 L113.50,160.79 L114.00,160.37 L114.50,159.95 L115.00,159.52 L115.50,159.10 L116.00,158.67 L116.50,158.23 L117.00,157.80 L117.50,157.36 L118.00,156.91 L118.50,156.47 L119.00,156.02 L119.50,155.57 L120.00,155.11 L120.50,154.65 L121.00,154.19 L121.50,153.73 L122.00,153.26 L122.50,152.79 L123.00,152.32 L123.50,151.84 L124.00,151.36 L124.50,150.88 L125.00,150.39 L125.50,149.90 L126.00,149.41 L126.50,148.91 L127.00,148.42 L127.50,147.91 L128.00,147.41 L128.50,146.90 L129.00,146.39 L129.50,145.88 L130.00,145.36 L130.50,144.84 L131.00,144.32 L131.50,143.79 L132.00,143.26 L132.50,142.73 L133.00,142.19 L133.50,141.66 L134.00,141.11 L134.50,140.57 L135.00,140.02 L135.50,139.47 L136.00,138.92 L136.50,138.36 L137.00,137.80 L137.50,137.24 L138.00,136.67 L138.50,136.10 L139.00,135.53 L139.50,134.95 L140.00,134.37 L140.50,133.79 L141.00,133.21 L141.50,132.62 L142.00,132.03 L142.50,131.43 L143.00,130.84 L143.50,130.24 L144.00,129.63 L144.50,129.03 L145.00,128.42 L145.50,127.80 L146.00,127.19 L146.50,126.57 L147.00,125.95 L147.50,125.32 L148.00,124.69 L148.50,124.06 L149.00,123.43 L149.50,122.79 L150.00,122.15 L150.50,121.51 L151.00,120.86 L151.50,120.21 L152.00,119.56 L152.50,118.90 L153.00,118.24 L153.50,117.58 L154.00,116.91 L154.50,116.25 L155.00,115.57 L155.50,114.90 L156.00,114.22 L156.50,113.54 L157.00,112.86 L157.50,112.17 L158.00,111.48 L158.50,110.79 L159.00,110.09 L159.50,109.39 L160.00,108.69 L160.50,107.99 L161.00,107.28 L161.50,106.56 L162.00,105.85 L162.50,105.13 L163.00,104.41 L163.50,103.69 L164.00,102.96 L164.50,102.23 L165.00,101.50 L165.50,100.76 L166.00,100.02 L166.50,99.28 L167.00,98.53 L167.50,97.78 L168.00,97.03 L168.50,96.28 L169.00,95.52 L169.50,94.76 L170.00,93.99 L170.50,93.23 L171.00,92.46 L171.50,91.68 L172.00,90.91 L172.50,90.13 L173.00,89.35 L173.50,88.56 L174.00,87.77 L174.50,86.98 L175.00,86.18 L175.50,85.39 L176.00,84.58 L176.50,83.78 L177.00,82.97 L177.50,82.16 L178.00,81.35 L178.50,80.53 L179.00,79.71 L179.50,78.89 L180.00,78.06 L180.50,77.20 L181.00,76.34 L181.50,75.48 L182.00,74.61 L182.50,73.74 L183.00,72.86 L183.50,71.99 L184.00,71.11 L184.50,70.22 L185.00,69.33 L185.50,68.44 L186.00,67.55 L186.50,66.65 L187.00,65.75 L187.50,64.84 L188.00,63.94 L188.50,63.02 L189.00,62.11 L189.50,61.19 L190.00,60.27 L190.50,59.35 L191.00,58.42 L191.50,57.49 L192.00,56.55 L192.50,55.62 L193.00,54.68 L193.50,53.73 L194.00,52.78 L194.50,51.83 L195.00,50.88 L195.50,49.92 L196.00,48.96 L196.50,48.00 L197.00,47.03 L197.50,46.06 L198.00,45.08 L198.50,44.11 L199.00,43.13 L199.50,42.14 L200.00,41.16 L200.50,40.18 L201.00,39.20 L201.50,38.21 L202.00,37.23 L202.50,36.27 L203.00,35.33 L203.50,34.42 L204.00,33.53 L204.50,32.66 L205.00,31.82 L205.50,31.01 L206.00,30.21 L206.50,29.44 L207.00,28.70 L207.50,27.97 L208.00,27.28 L208.50,26.60 L209.00,25.95 L209.50,25.32 L210.00,24.72 L210.50,24.14 L211.00,23.59 L211.50,23.05 L212.00,22.55 L212.50,22.06 L213.00,21.60 L213.50,21.16 L214.00,20.75 L214.50,20.36 L215.00,20.00 L215.50,19.66 L216.00,19.34 L216.50,19.04 L217.00,18.77 L217.50,18.53 L218.00,18.31 L218.50,18.11 L219.00,17.93 L219.50,17.78 L220.00,17.65 L220.50,17.55 L221.00,17.47 L221.50,17.41 L222.00,17.38 L222.50,17.37 L223.00,17.39 L223.50,17.42 L224.00,17.48 L224.50,17.55 L225.00,17.65 L225.50,17.77 L226.00,17.91 L226.50,18.08 L227.00,18.26 L227.50,18.47 L228.00,18.69 L228.50,18.94 L229.00,19.21 L229.50,19.50 L230.00,19.81 L230.50,20.15 L231.00,20.50 L231.50,20.88 L232.00,21.28 L232.50,21.70 L233.00,22.14 L233.50,22.60 L234.00,23.08 L234.50,23.59 L235.00,24.11 L235.50,24.66 L236.00,25.23 L236.50,25.82 L237.00,26.43 L237.50,27.07 L238.00,27.72 L238.50,28.40 L239.00,29.09 L239.50,29.81 L240.00,30.55 L240.50,31.31 L241.00,32.10 L241.50,32.90 L242.00,33.73 L242.50,34.57 L243.00,35.44 L243.50,36.33 L244.00,37.24 L244.50,38.17 L245.00,39.11 L245.50,40.08 L246.00,41.05 L246.50,42.02 L247.00,42.99 L247.50,43.95 L248.00,44.91 L248.50,45.86 L249.00,46.81 L249.50,47.76 L250.00,48.71 L250.50,49.65 L251.00,50.59 L251.50,51.52 L252.00,52.46 L252.50,53.39 L253.00,54.31 L253.50,55.24 L254.00,56.16 L254.50,57.07 L255.00,57.99 L255.50,58.90 L256.00,59.81 L256.50,60.71 L257.00,61.61 L257.50,62.51 L258.00,63.40 L258.50,64.30 L259.00,65.18 L259.50,66.07 L260.00,66.95 L260.50,67.83 L261.00,68.71 L261.50,69.58 L262.00,70.45 L262.50,71.31 L263.00,72.18 L263.50,73.04 L264.00,73.89 L264.50,74.75 L265.00,75.60 L265.50,76.44 L266.00,77.29 L266.50,78.13 L267.00,78.97 L267.50,79.80 L268.00,80.63 L268.50,81.46 L269.00,82.28 L269.50,83.11 L270.00,83.92 L270.50,84.74 L271.00,85.55 L271.50,86.36 L272.00,87.17 L272.50,87.97 L273.00,88.77 L273.50,89.56 L274.00,90.36 L274.50,91.15 L275.00,91.93 L275.50,92.72 L276.00,93.50 L276.50,94.27 L277.00,95.05 L277.50,95.82 L278.00,96.59 L278.50,97.35 L279.00,98.11 L279.50,98.87 L280.00,99.62 L280.50,100.38 L281.00,101.13 L281.50,101.87 L282.00,102.61 L282.50,103.35 L283.00,104.09 L283.50,104.82 L284.00,105.55 L284.50,106.28 L285.00,107.00 L285.50,107.72 L286.00,108.44 L286.50,109.15 L287.00,109.86 L287.50,110.57 L288.00,111.28 L288.50,111.98 L289.00,112.68 L289.50,113.37 L290.00,114.06 L290.50,114.75 L291.00,115.44 L291.50,116.12 L292.00,116.80 L292.50,117.47 L293.00,118.15 L293.50,118.81 L294.00,119.48 L294.50,120.14 L295.00,120.80 L295.50,121.46 L296.00,122.11 L296.50,122.76 L297.00,123.41 L297.50,124.06 L298.00,124.70 L298.50,125.33 L299.00,125.97 L299.50,126.60 L300.00,127.23 L300.50,127.85 L301.00,128.47 L301.50,129.08 L302.00,129.69 L302.50,130.30 L303.00,130.91 L303.50,131.51 L304.00,132.11 L304.50,132.70 L305.00,133.30 L305.50,133.89 L306.00,134.47 L306.50,135.06 L307.00,135.64 L307.50,136.21 L308.00,136.79 L308.50,137.36 L309.00,137.92 L309.50,138.49 L310.00,139.05 L310.50,139.61 L311.00,140.16 L311.50,140.72 L312.00,141.26 L312.50,141.81 L313.00,142.35 L313.50,142.89 L314.00,143.43 L314.50,143.96 L315.00,144.49 L315.50,145.02 L316.00,145.54 L316.50,146.06 L317.00,146.58 L317.50,147.09 L318.00,147.60 L318.50,148.11 L319.00,148.62 L319.50,149.12 L320.00,149.62 L320.50,150.11 L321.00,150.60 L321.50,151.09 L322.00,151.58 L322.50,152.06 L323.00,152.54 L323.50,153.02 L324.00,153.49 L324.50,153.96 L325.00,154.43 L325.50,154.89 L326.00,155.35 L326.50,155.81 L327.00,156.26 L327.50,156.71 L328.00,157.16 L328.50,157.61 L329.00,158.05 L329.50,158.49 L330.00,158.92 L330.50,159.35 L331.00,159.78 L331.50,160.21 L332.00,160.63 L332.50,161.05 L333.00,161.47 L333.50,161.88 L334.00,162.29 L334.50,162.70 L335.00,163.10 L335.50,163.51 L336.00,163.90 L336.50,164.30 L337.00,164.69 L337.50,165.08 L338.00,165.46 L338.50,165.84 L339.00,166.22 L339.50,166.60 L340.00,166.97 L340.50,167.34 L341.00,167.71 L341.50,168.07 L342.00,168.43 L342.50,168.79 L343.00,169.14 L343.50,169.49 L344.00,169.84 L344.50,170.18 L345.00,170.52 L345.50,170.87 L346.00,171.21 L346.50,171.54 L347.00,171.88 L347.50,172.21 L348.00,172.53 L348.50,172.86 L349.00,173.18 L349.50,173.50 L350.00,173.81 L350.50,174.12 L351.00,174.43 L351.50,174.73 L352.00,175.03 L352.50,175.33 L353.00,175.62 L353.50,175.91 L354.00,176.20 L354.50,176.48 L355.00,176.76 L355.50,177.04 L356.00,177.31 L356.50,177.58 L357.00,177.84 L357.50,178.11 L358.00,178.36 L358.50,178.62 L359.00,178.87 L359.50,179.12 L360.00,179.37 L360.50,179.61 L361.00,179.85 L361.50,180.08 L362.00,180.31 L362.50,180.54 L363.00,180.76 L363.50,180.98 L364.00,181.20 L364.50,181.42 L365.00,181.63 L365.50,181.83 L366.00,182.03 L366.50,182.22 L367.00,182.41 L367.50,182.60 L368.00,182.79 L368.50,182.97 L369.00,183.15 L369.50,183.33 L370.00,183.50 L370.50,183.67 L371.00,183.83 L371.50,184.00 L372.00,184.16 L372.50,184.31 L373.00,184.46 L373.50,184.61 L374.00,184.76 L374.50,184.90 L375.00,185.04 L375.50,185.18 L376.00,185.31 L376.50,185.44 L377.00,185.57 L377.50,185.69 L378.00,185.81 L378.50,185.93 L379.00,186.04 L379.50,186.15 L380.00,186.26 L380.50,186.36 L381.00,186.46 L381.50,186.56 L382.00,186.65 L382.50,186.74 L383.00,186.83 L383.50,186.92 L384.00,187.00 L384.50,187.07 L385.00,187.15 L385.50,187.22 L386.00,187.29 L386.50,187.35 L387.00,187.41 L387.50,187.47 L388.00,187.52 L388.50,187.57 L389.00,187.62 L389.50,187.67 L390.00,187.71 L390.50,187.74 L391.00,187.78 L391.50,187.81 L392.00,187.84 L392.50,187.86 L393.00,187.89 L393.50,187.90 L394.00,187.92 L394.50,187.93 L395.00,187.94 L395.50,187.94 L396.00,187.95 L396.50,187.94 L397.00,187.94 L397.50,187.93 L398.00,187.92 L398.50,187.91 L399.00,187.89 L399.50,187.87 L400.00,187.84 L400.50,187.82 L401.00,187.79 L401.50,187.75 L402.00,187.72 L402.50,187.68 L403.00,187.64 L403.50,187.59 L404.00,187.54 L404.50,187.49 L405.00,187.43 L405.50,187.37 L406.00,187.31 L406.50,187.25 L407.00,187.18 L407.50,187.11 L408.00,187.03 L408.50,186.95 L409.00,186.87 L409.50,186.79 L410.00,186.70 L410.50,186.61 L411.00,186.51 L411.50,186.42 L412.00,186.32 L412.50,186.21 L413.00,186.11 L413.50,186.00 L414.00,185.88 L414.50,185.77 L415.00,185.65 L415.50,185.52 L416.00,185.40 L416.50,185.27 L417.00,185.14 L417.50,185.00 L418.00,184.86 L418.50,184.72 L419.00,184.58 L419.50,184.43 L420.00,184.28 L420.50,184.12 L421.00,183.96 L421.50,183.80 L422.00,183.64 L422.50,183.47 L423.00,183.30 L423.50,183.12 L424.00,182.95 L424.50,182.77 L425.00,182.58 L425.50,182.39 L426.00,182.20 L426.50,182.01 L427.00,181.81 L427.50,181.60 L428.00,181.40 L428.50,181.19 L429.00,180.98 L429.50,180.76 L430.00,180.54 L430.50,180.32 L431.00,180.10 L431.50,179.87 L432.00,179.64 L432.50,179.40 L433.00,179.16 L433.50,178.92 L434.00,178.67 L434.50,178.43 L435.00,178.17 L435.50,177.92 L436.00,177.66 L436.50,177.40 L437.00,177.14 L437.50,176.87 L438.00,176.60 L438.50,176.32 L439.00,176.04 L439.50,175.76 L440.00,175.48 L440.50,175.19 L441.00,174.90 L441.50,174.61 L442.00,174.31 L442.50,174.01 L443.00,173.70 L443.50,173.40 L444.00,173.08 L444.50,172.77 L445.00,172.45 L445.50,172.13 L446.00,171.81 L446.50,171.49 L447.00,171.16 L447.50,170.82 L448.00,170.49 L448.50,170.15 L449.00,169.81 L449.50,169.46 L450.00,169.12 L450.50,168.77 L451.00,168.41 L451.50,168.06 L452.00,167.70 L452.50,167.33 L453.00,166.97 L453.50,166.60 L454.00,166.22 L454.50,165.85 L455.00,165.47 L455.50,165.09 L456.00,164.70 L456.50,164.32 L457.00,163.92 L457.50,163.53 L458.00,163.13 L458.50,162.73 L459.00,162.33 L459.50,161.92 L460.00,161.51 L460.50,161.11 L461.00,160.69 L461.50,160.28 L462.00,159.86 L462.50,159.44 L463.00,159.02 L463.50,158.59 L464.00,158.16 L464.50,157.73 L465.00,157.29 L465.50,156.86 L466.00,156.41 L466.50,155.97 L467.00,155.52 L467.50,155.07 L468.00,154.62 L468.50,154.16 L469.00,153.70 L469.50,153.24 L470.00,152.77 L470.50,152.30 L471.00,151.83 L471.50,151.35 L472.00,150.88 L472.50,150.40 L473.00,149.91 L473.50,149.42 L474.00,148.93 L474.50,148.44 L475.00,147.94 L475.50,147.44 L476.00,146.94 L476.50,146.44 L477.00,145.93 L477.50,145.42 L478.00,144.90 L478.50,144.39 L479.00,143.86 L479.50,143.34 L480.00,142.81 L480.50,142.29 L481.00,141.75 L481.50,141.22 L482.00,140.68 L482.50,140.14 L483.00,139.59 L483.50,139.04 L484.00,138.49 L484.50,137.94 L485.00,137.38 L485.50,136.82 L486.00,136.26 L486.50,135.69 L487.00,135.13 L487.50,134.55 L488.00,133.98 L488.50,133.40 L489.00,132.82 L489.50,132.23 L490.00,131.65 L490.50,131.06 L491.00,130.46 L491.50,129.87 L492.00,129.27 L492.50,128.67 L493.00,128.06 L493.50,127.45 L494.00,126.84 L494.50,126.23 L495.00,125.61 L495.50,124.99 L496.00,124.37 L496.50,123.74 L497.00,123.11 L497.50,122.48 L498.00,121.84 L498.50,121.20 L499.00,120.56 L499.50,119.92 L500.00,119.27 L500.50,118.62 L501.00,117.96 L501.50,117.30 L502.00,116.64 L502.50,115.97 L503.00,115.30 L503.50,114.63 L504.00,113.95 L504.50,113.27 L505.00,112.59 L505.50,111.91 L506.00,111.22 L506.50,110.53 L507.00,109.84 L507.50,109.14 L508.00,108.44 L508.50,107.74 L509.00,107.03 L509.50,106.32 L510.00,105.61 L510.50,104.90 L511.00,104.18 L511.50,103.46 L512.00,102.73 L512.50,102.01 L513.00,101.28 L513.50,100.54 L514.00,99.81 L514.50,99.07 L515.00,98.33 L515.50,97.58 L516.00,96.83 L516.50,96.08 L517.00,95.33 L517.50,94.57 L518.00,93.81 L518.50,93.04 L519.00,92.28 L519.50,91.51 L520.00,90.73 L520.50,89.96 L521.00,89.18 L521.50,88.40 L522.00,87.61 L522.50,86.82 L523.00,86.03 L523.50,85.24 L524.00,84.44 L524.50,83.64 L525.00,82.84 L525.50,82.03 L526.00,81.22 L526.50,80.41 L527.00,79.59 L527.50,78.77 L528.00,77.95 L528.50,77.12 L529.00,76.30 L529.50,75.47 L530.00,74.63 L530.50,73.79 L531.00,72.95 L531.50,72.11 L532.00,71.26 L532.50,70.41 L533.00,69.56 L533.50,68.71 L534.00,67.85 L534.50,66.99 L535.00,66.12 L535.50,65.25 L536.00,64.38 L536.50,63.51 L537.00,62.63 L537.50,61.75 L538.00,60.86 L538.50,59.97 L539.00,59.07" stroke="#f26230"/>
<path d="M47.00,187.94 L47.50,187.93 L48.00,187.92 L48.50,187.91 L49.00,187.89 L49.50,187.87 L50.00,187.85 L50.50,187.82 L51.00,187.79 L51.50,187.76 L52.00,187.72 L52.50,187.68 L53.00,187.64 L53.50,187.60 L54.00,187.55 L54.50,187.50 L55.00,187.44 L55.50,187.39 L56.00,187.33 L56.50,187.26 L57.00,187.20 L57.50,187.13 L58.00,187.05 L58.50,186.98 L59.00,186.90 L59.50,186.82 L60.00,186.73 L60.50,186.65 L61.00,186.56 L61.50,186.46 L62.00,186.36 L62.50,186.26 L63.00,186.16 L63.50,186.05 L64.00,185.94 L64.50,185.83 L65.00,185.72 L65.50,185.60 L66.00,185.48 L66.50,185.35 L67.00,185.22 L67.50,185.09 L68.00,184.96 L68.50,184.82 L69.00,184.68 L69.50,184.54 L70.00,184.39 L70.50,184.24 L71.00,184.09 L71.50,183.93 L72.00,183.77 L72.50,183.61 L73.00,183.45 L73.50,183.28 L74.00,183.11 L74.50,182.93 L75.00,182.76 L75.50,182.58 L76.00,182.39 L76.50,182.21 L77.00,182.02 L77.50,181.82 L78.00,181.63 L78.50,181.43 L79.00,181.23 L79.50,181.02 L80.00,180.81 L80.50,180.60 L81.00,180.37 L81.50,180.15 L82.00,179.92 L82.50,179.69 L83.00,179.46 L83.50,179.22 L84.00,178.98 L84.50,178.73 L85.00,178.49 L85.50,178.24 L86.00,177.98 L86.50,177.72 L87.00,177.46 L87.50,177.20 L88.00,176.93 L88.50,176.66 L89.00,176.39 L89.50,176.11 L90.00,175.83 L90.50,175.55 L91.00,175.26 L91.50,174.97 L92.00,174.68 L92.50,174.38 L93.00,174.08 L93.50,173.78 L94.00,173.47 L94.50,173.16 L95.00,172.85 L95.50,172.53 L96.00,172.21 L96.50,171.89 L97.00,171.56 L97.50,171.24 L98.00,170.90 L98.50,170.57 L99.00,170.23 L99.50,169.89 L100.00,169.55 L100.50,169.20 L101.00,168.85 L101.50,168.50 L102.00,168.14 L102.50,167.78 L103.00,167.42 L103.50,167.05 L104.00,166.69 L104.50,166.31 L105.00,165.94 L105.50,165.56 L106.00,165.18 L106.50,164.80 L107.00,164.41 L107.50,164.02 L108.00,163.63 L108.50,163.23 L109.00,162.83 L109.50,162.43 L110.00,162.02 L110.50,161.61 L111.00,161.20 L111.50,160.79 L112.00,160.37 L112.50,159.95 L113.00,159.52 L113.50,159.10 L114.00,158.67 L114.50,158.23 L115.00,157.80 L115.50,157.36 L116.00,156.91 L116.50,156.47 L117.00,156.02 L117.50,155.57 L118.00,155.11 L118.50,154.65 L119.00,154.19 L119.50,153.73 L120.00,153.26 L120.50,152.79 L121.00,152.32 L121.50,151.84 L122.00,151.36 L122.50,150.88 L123.00,150.39 L123.50,149.90 L124.00,149.41 L124.50,148.91 L125.00,148.42 L125.50,147.91 L126.00,147.41 L126.50,146.90 L127.00,146.39 L127.50,145.88 L128.00,145.36 L128.50,144.84 L129.00,144.32 L129.50,143.79 L130.00,143.26 L130.50,142.73 L131.00,142.19 L131.50,141.66 L132.00,141.11 L132.50,140.57 L133.00,140.02 L133.50,139.47 L134.00,138.92 L134.50,138.36 L135.00,137.80 L135.50,137.24 L136.00,136.67 L136.50,136.10 L137.00,135.53 L137.50,134.95 L138.00,134.37 L138.50,133.79 L139.00,133.21 L139.50,132.62 L140.00,132.03 L140.50,131.43 L141.00,130.84 L141.50,130.24 L142.00,129.63 L142.50,129.03 L143.00,128.42 L143.50,127.80 L144.00,127.19 L144.50,126.57 L145.00,125.95 L145.50,125.32 L146.00,124.69 L146.50,124.06 L147.00,123.43 L147.50,122.79 L148.00,122.15 L148.50,121.51 L149.00,120.86 L149.50,120.21 L150.00,119.56 L150.50,118.90 L151.00,118.24 L151.50,117.58 L152.00,116.91 L152.50,116.25 L153.00,115.57 L153.50,114.90 L154.00,114.22 L154.50,113.54 L155.00,112.86 L155.50,112.17 L156.00,111.48 L156.50,110.79 L157.00,110.09 L157.50,109.39 L158.00,108.69 L158.50,107.99 L159.00,107.28 L159.50,106.56 L160.00,105.85 L160.50,105.13 L161.00,104.41 L161.50,103.69 L162.00,102.96 L162.50,102.23 L163.00,101.50 L163.50,100.76 L164.00,100.02 L164.50,99.28 L165.00,98.53 L165.50,97.78 L166.00,97.03 L166.50,96.28 L167.00,95.52 L167.50,94.76 L168.00,93.99 L168.50,93.23 L169.00,92.46 L169.50,91.68 L170.00,90.91 L170.50,90.13 L171.00,89.35 L171.50,88.56 L172.00,87.77 L172.50,86.98 L173.00,86.18 L173.50,85.39 L174.00,84.58 L174.50,83.78 L175.00,82.97 L175.50,82.16 L176.00,81.35 L176.50,80.53 L177.00,79.71 L177.50,78.89 L178.00,78.06 L178.50,77.23 L179.00,76.40 L179.50,75.57 L180.00,74.73 L180.50,73.89 L181.00,73.04 L181.50,72.19 L182.00,71.34 L182.50,70.49 L183.00,69.63 L183.50,68.77 L184.00,67.91 L184.50,67.04 L185.00,66.18 L185.50,65.30 L186.00,64.43 L186.50,63.55 L187.00,62.67 L187.50,61.78 L188.00,60.89 L188.50,60.00 L189.00,59.11 L189.50,58.21 L190.00,57.31 L190.50,56.41 L191.00,55.50 L191.50,54.59 L192.00,53.68 L192.50,52.77 L193.00,51.85 L193.50,50.93 L194.00,50.00 L194.50,49.07 L195.00,48.14 L195.50,47.21 L196.00,46.27 L196.50,45.33 L197.00,44.39 L197.50,43.44 L198.00,42.49 L198.50,41.54 L199.00,40.58 L199.50,39.62 L200.00,38.66 L200.50,37.65 L201.00,36.65 L201.50,35.68 L202.00,34.74 L202.50,33.82 L203.00,32.92 L203.50,32.05 L204.00,31.20 L204.50,30.38 L205.00,29.59 L205.50,28.82 L206.00,28.07 L206.50,27.35 L207.00,26.66 L207.50,25.99 L208.00,25.34 L208.50,24.72 L209.00,24.13 L209.50,23.56 L210.00,23.01 L210.50,22.50 L211.00,22.00 L211.50,21.53 L212.00,21.09 L212.50,20.67 L213.00,20.27 L213.50,19.91 L214.00,19.56 L214.50,19.24 L215.00,18.95 L215.50,18.68 L216.00,18.44 L216.50,18.22 L217.00,18.03 L217.50,17.86 L218.00,17.71 L218.50,17.60 L219.00,17.50 L219.50,17.44 L220.00,17.39 L220.50,17.37 L221.00,17.38 L221.50,17.41 L222.00,17.46 L222.50,17.53 L223.00,17.63 L223.50,17.75 L224.00,17.89 L224.50,18.05 L225.00,18.24 L225.50,18.45 L226.00,18.68 L226.50,18.94 L227.00,19.22 L227.50,19.52 L228.00,19.84 L228.50,20.19 L229.00,20.56 L229.50,20.95 L230.00,21.37 L230.50,21.80 L231.00,22.26 L231.50,22.75 L232.00,23.25 L232.50,23.78 L233.00,24.33 L233.50,24.91 L234.00,25.50 L234.50,26.12 L235.00,26.76 L235.50,27.43 L236.00,28.12 L236.50,28.83 L237.00,29.56 L237.50,30.32 L238.00,31.10 L238.50,31.90 L239.00,32.72 L239.50,33.57 L240.00,34.44 L240.50,35.33 L241.00,36.25 L241.50,37.18 L242.00,38.14 L242.50,39.11 L243.00,40.07 L243.50,41.03 L244.00,41.98 L244.50,42.93 L245.00,43.88 L245.50,44.82 L246.00,45.77 L246.50,46.71 L247.00,47.64 L247.50,48.57 L248.00,49.50 L248.50,50.43 L249.00,51.35 L249.50,52.27 L250.00,53.19 L250.50,54.11 L251.00,55.02 L251.50,55.92 L252.00,56.83 L252.50,57.73 L253.00,58.63 L253.50,59.53 L254.00,60.42 L254.50,61.31 L255.00,62.19 L255.50,63.08 L256.00,63.96 L256.50,64.83 L257.00,65.71 L257.50,66.58 L258.00,67.45 L258.50,68.31 L259.00,69.17 L259.50,70.03 L260.00,70.89 L260.50,71.74 L261.00,72.59 L261.50,73.43 L262.00,74.28 L262.50,75.12 L263.00,75.95 L263.50,76.79 L264.00,77.62 L264.50,78.45 L265.00,79.27 L265.50,80.09 L266.00,80.91 L266.50,81.73 L267.00,82.54 L267.50,83.35 L268.00,84.15 L268.50,84.96 L269.00,85.76 L269.50,86.55 L270.00,87.35 L270.50,88.14 L271.00,88.92 L271.50,89.71 L272.00,90.49 L272.50,91.27 L273.00,92.04 L273.50,92.82 L274.00,93.58 L274.50,94.35 L275.00,95.11 L275.50,95.87 L276.00,96.63 L276.50,97.38 L277.00,98.13 L277.50,98.88 L278.00,99.62 L278.50,100.37 L279.00,101.10 L279.50,101.84 L280.00,102.57 L280.50,103.30 L281.00,104.02 L281.50,104.75 L282.00,105.47 L282.50,106.18 L283.00,106.90 L283.50,107.61 L284.00,108.31 L284.50,109.02 L285.00,109.72 L285.50,110.42 L286.00,111.11 L286.50,111.80 L287.00,112.49 L287.50,113.18 L288.00,113.86 L288.50,114.54 L289.00,115.21 L289.50,115.89 L290.00,116.56 L290.50,117.22 L291.00,117.89 L291.50,118.55 L292.00,119.21 L292.50,119.86 L293.00,120.51 L293.50,121.16 L294.00,121.81 L294.50,122.45 L295.00,123.09 L295.50,123.72 L296.00,124.36 L296.50,124.99 L297.00,125.61 L297.50,126.24 L298.00,126.86 L298.50,127.47 L299.00,128.09 L299.50,128.70 L300.00,129.31 L300.50,129.91 L301.00,130.51 L301.50,131.11 L302.00,131.71 L302.50,132.30 L303.00,132.89 L303.50,133.48 L304.00,134.06 L304.50,134.64 L305.00,135.22 L305.50,135.79 L306.00,136.36 L306.50,136.93 L307.00,137.50 L307.50,138.06 L308.00,138.62 L308.50,139.17 L309.00,139.73 L309.50,140.28 L310.00,140.82 L310.50,141.37 L311.00,141.91 L311.50,142.44 L312.00,142.98 L312.50,143.51 L313.00,144.04 L313.50,144.56 L314.00,145.08 L314.50,145.60 L315.00,146.12 L315.50,146.63 L316.00,147.14 L316.50,147.64 L317.00,148.15 L317.50,148.65 L318.00,149.14 L318.50,149.64 L319.00,150.13 L319.50,150.62 L320.00,151.10 L320.50,151.58 L321.00,152.06 L321.50,152.54 L322.00,153.01 L322.50,153.48 L323.00,153.94 L323.50,154.41 L324.00,154.87 L324.50,155.32 L325.00,155.78 L325.50,156.23 L326.00,156.67 L326.50,157.12 L327.00,157.56 L327.50,158.00 L328.00,158.43 L328.50,158.87 L329.00,159.29 L329.50,159.72 L330.00,160.14 L330.50,160.56 L331.00,160.98 L331.50,161.39 L332.00,161.80 L332.50,162.21 L333.00,162.61 L333.50,163.02 L334.00,163.41 L334.50,163.81 L335.00,164.20 L335.50,164.59 L336.00,164.97 L336.50,165.36 L337.00,165.74 L337.50,166.11 L338.00,166.49 L338.50,166.86 L339.00,167.22 L339.50,167.59 L340.00,167.95 L340.50,168.31 L341.00,168.66 L341.50,169.01 L342.00,169.36 L342.50,169.71 L343.00,170.05 L343.50,170.39 L344.00,170.72 L344.50,171.06 L345.00,171.39 L345.50,171.72 L346.00,172.04 L346.50,172.36 L347.00,172.68 L347.50,172.99 L348.00,173.30 L348.50,173.61 L349.00,173.92 L349.50,174.22 L350.00,174.52 L350.50,174.81 L351.00,175.10 L351.50,175.39 L352.00,175.68 L352.50,175.96 L353.00,176.24 L353.50,176.52 L354.00,176.79 L354.50,177.06 L355.00,177.32 L355.50,177.58 L356.00,177.84 L356.50,178.10 L357.00,178.35 L357.50,178.60 L358.00,178.85 L358.50,179.09 L359.00,179.33 L359.50,179.57 L360.00,179.80 L360.50,180.03 L361.00,180.26 L361.50,180.48 L362.00,180.70 L362.50,180.91 L363.00,181.13 L363.50,181.34 L364.00,181.54 L364.50,181.75 L365.00,181.95 L365.50,182.14 L366.00,182.34 L366.50,182.53 L367.00,182.72 L367.50,182.90 L368.00,183.08 L368.50,183.26 L369.00,183.43 L369.50,183.60 L370.00,183.77 L370.50,183.93 L371.00,184.09 L371.50,184.25 L372.00,184.40 L372.50,184.55 L373.00,184.70 L373.50,184.85 L374.00,184.99 L374.50,185.13 L375.00,185.26 L375.50,185.39 L376.00,185.52 L376.50,185.64 L377.00,185.76 L377.50,185.88 L378.00,186.00 L378.50,186.11 L379.00,186.22 L379.50,186.32 L380.00,186.42 L380.50,186.52 L381.00,186.62 L381.50,186.72 L382.00,186.81 L382.50,186.89 L383.00,186.98 L383.50,187.06 L384.00,187.14 L384.50,187.21 L385.00,187.28 L385.50,187.35 L386.00,187.41 L386.50,187.47 L387.00,187.52 L387.50,187.58 L388.00,187.62 L388.50,187.67 L389.00,187.71 L389.50,187.75 L390.00,187.79 L390.50,187.82 L391.00,187.85 L391.50,187.87 L392.00,187.89 L392.50,187.91 L393.00,187.92 L393.50,187.93 L394.00,187.94 L394.50,187.94 L395.00,187.94 L395.50,187.94 L396.00,187.93 L396.50,187.92 L397.00,187.91 L397.50,187.89 L398.00,187.87 L398.50,187.85 L399.00,187.82 L399.50,187.79 L400.00,187.76 L400.50,187.72 L401.00,187.68 L401.50,187.63 L402.00,187.58 L402.50,187.53 L403.00,187.47 L403.50,187.42 L404.00,187.35 L404.50,187.29 L405.00,187.22 L405.50,187.14 L406.00,187.07 L406.50,186.99 L407.00,186.91 L407.50,186.82 L408.00,186.73 L408.50,186.63 L409.00,186.54 L409.50,186.44 L410.00,186.33 L410.50,186.22 L411.00,186.11 L411.50,186.00 L412.00,185.88 L412.50,185.76 L413.00,185.63 L413.50,185.50 L414.00,185.37 L414.50,185.24 L415.00,185.10 L415.50,184.95 L416.00,184.81 L416.50,184.66 L417.00,184.51 L417.50,184.35 L418.00,184.19 L418.50,184.03 L419.00,183.86 L419.50,183.69 L420.00,183.52 L420.50,183.34 L421.00,183.16 L421.50,182.97 L422.00,182.78 L422.50,182.59 L423.00,182.40 L423.50,182.20 L424.00,182.00 L424.50,181.79 L425.00,181.58 L425.50,181.37 L426.00,181.16 L426.50,180.94 L427.00,180.71 L427.50,180.49 L428.00,180.26 L428.50,180.03 L429.00,179.79 L429.50,179.55 L430.00,179.31 L430.50,179.06 L431.00,178.82 L431.50,178.57 L432.00,178.32 L432.50,178.06 L433.00,177.81 L433.50,177.54 L434.00,177.28 L434.50,177.01 L435.00,176.74 L435.50,176.46 L436.00,176.19 L436.50,175.90 L437.00,175.62 L437.50,175.33 L438.00,175.04 L438.50,174.74 L439.00,174.45 L439.50,174.14 L440.00,173.84 L440.50,173.53 L441.00,173.22 L441.50,172.91 L442.00,172.59 L442.50,172.27 L443.00,171.94 L443.50,171.62 L444.00,171.28 L444.50,170.95 L445.00,170.61 L445.50,170.27 L446.00,169.93 L446.50,169.59 L447.00,169.24 L447.50,168.88 L448.00,168.53 L448.50,168.17 L449.00,167.81 L449.50,167.44 L450.00,167.08 L450.50,166.70 L451.00,166.33 L451.50,165.95 L452.00,165.57 L452.50,165.19 L453.00,164.80 L453.50,164.41 L454.00,164.02 L454.50,163.62 L455.00,163.22 L455.50,162.82 L456.00,162.42 L456.50,162.01 L457.00,161.59 L457.50,161.18 L458.00,160.76 L458.50,160.34 L459.00,159.92 L459.50,159.49 L460.00,159.06 L460.50,158.62 L461.00,158.19 L461.50,157.75 L462.00,157.30 L462.50,156.86 L463.00,156.41 L463.50,155.95 L464.00,155.50 L464.50,155.04 L465.00,154.58 L465.50,154.11 L466.00,153.64 L466.50,153.17 L467.00,152.70 L467.50,152.22 L468.00,151.74 L468.50,151.25 L469.00,150.77 L469.50,150.28 L470.00,149.78 L470.50,149.29 L471.00,148.79 L471.50,148.30 L472.00,147.79 L472.50,147.29 L473.00,146.78 L473.50,146.27 L474.00,145.75 L474.50,145.24 L475.00,144.72 L475.50,144.19 L476.00,143.66 L476.50,143.13 L477.00,142.60 L477.50,142.07 L478.00,141.53 L478.50,140.98 L479.00,140.44 L479.50,139.89 L480.00,139.34 L480.50,138.78 L481.00,138.23 L481.50,137.66 L482.00,137.10 L482.50,136.53 L483.00,135.96 L483.50,135.39 L484.00,134.81 L484.50,134.23 L485.00,133.65 L485.50,133.07 L486.00,132.48 L486.50,131.89 L487.00,131.29 L487.50,130.69 L488.00,130.09 L488.50,129.49 L489.00,128.88 L489.50,128.27 L490.00,127.66 L490.50,127.04 L491.00,126.42 L491.50,125.80 L492.00,125.17 L492.50,124.54 L493.00,123.91 L493.50,123.28 L494.00,122.64 L494.50,122.00 L495.00,121.35 L495.50,120.70 L496.00,120.05 L496.50,119.40 L497.00,118.74 L497.50,118.08 L498.00,117.42 L498.50,116.75 L499.00,116.09 L499.50,115.41 L500.00,114.74 L500.50,114.06 L501.00,113.38 L501.50,112.69 L502.00,112.01 L502.50,111.32 L503.00,110.62 L503.50,109.92 L504.00,109.22 L504.50,108.52 L505.00,107.82 L505.50,107.11 L506.00,106.39 L506.50,105.68 L507.00,104.96 L507.50,104.24 L508.00,103.51 L508.50,102.79 L509.00,102.06 L509.50,101.32 L510.00,100.58 L510.50,99.84 L511.00,99.10 L511.50,98.35 L512.00,97.60 L512.50,96.85 L513.00,96.10 L513.50,95.34 L514.00,94.58 L514.50,93.81 L515.00,93.04 L515.50,92.27 L516.00,91.50 L516.50,90.72 L517.00,89.94 L517.50,89.16 L518.00,88.37 L518.50,87.58 L519.00,86.79 L519.50,85.99 L520.00,85.19 L520.50,84.39 L521.00,83.59 L521.50,82.78 L522.00,81.97 L522.50,81.15 L523.00,80.34 L523.50,79.51 L524.00,78.69 L524.50,77.86 L525.00,77.03 L525.50,76.20 L526.00,75.37 L526.50,74.53 L527.00,73.68 L527.50,72.84 L528.00,71.99 L528.50,71.14 L529.00,70.29 L529.50,69.43 L530.00,68.57 L530.50,67.70 L531.00,66.84 L531.50,65.97 L532.00,65.09 L532.50,64.22 L533.00,63.34 L533.50,62.46 L534.00,61.57 L534.50,60.68 L535.00,59.79 L535.50,58.90 L536.00,58.00 L536.50,57.10 L537.00,56.19 L537.50,55.29 L538.00,54.38 L538.50,53.46 L539.00,52.55" stroke="#f6b925" stroke-width="1.25"/>
</g>
<g clip-path="url(#c2)" fill="none" stroke-width="1.1" stroke-linejoin="round">
<path d="M47.00,457.19 L47.50,457.18 L48.00,457.17 L48.50,457.16 L49.00,457.14 L49.50,457.12 L50.00,457.09 L50.50,457.06 L51.00,457.03 L51.50,457.00 L52.00,456.96 L52.50,456.92 L53.00,456.88 L53.50,456.83 L54.00,456.78 L54.50,456.73 L55.00,456.67 L55.50,456.61 L56.00,456.54 L56.50,456.48 L57.00,456.41 L57.50,456.33 L58.00,456.26 L58.50,456.18 L59.00,456.09 L59.50,456.01 L60.00,455.92 L60.50,455.82 L61.00,455.73 L61.50,455.63 L62.00,455.52 L62.50,455.42 L63.00,455.31 L63.50,455.19 L64.00,455.08 L64.50,454.96 L65.00,454.84 L65.50,454.71 L66.00,454.58 L66.50,454.45 L67.00,454.31 L67.50,454.17 L68.00,454.03 L68.50,453.88 L69.00,453.74 L69.50,453.58 L70.00,453.43 L70.50,453.27 L71.00,453.11 L71.50,452.94 L72.00,452.77 L72.50,452.60 L73.00,452.42 L73.50,452.25 L74.00,452.06 L74.50,451.88 L75.00,451.69 L75.50,451.50 L76.00,451.30 L76.50,451.11 L77.00,450.90 L77.50,450.70 L78.00,450.49 L78.50,450.28 L79.00,450.06 L79.50,449.85 L80.00,449.62 L80.50,449.40 L81.00,449.17 L81.50,448.94 L82.00,448.71 L82.50,448.47 L83.00,448.23 L83.50,447.98 L84.00,447.74 L84.50,447.49 L85.00,447.23 L85.50,446.97 L86.00,446.71 L86.50,446.45 L87.00,446.18 L87.50,445.91 L88.00,445.64 L88.50,445.36 L89.00,445.08 L89.50,444.80 L90.00,444.51 L90.50,444.22 L91.00,443.93 L91.50,443.63 L92.00,443.33 L92.50,443.03 L93.00,442.72 L93.50,442.41 L94.00,442.10 L94.50,441.78 L95.00,441.46 L95.50,441.14 L96.00,440.81 L96.50,440.49 L97.00,440.15 L97.50,439.82 L98.00,439.48 L98.50,439.14 L99.00,438.80 L99.50,438.45 L100.00,438.10 L100.50,437.75 L101.00,437.39 L101.50,437.03 L102.00,436.67 L102.50,436.30 L103.00,435.94 L103.50,435.56 L104.00,435.19 L104.50,434.81 L105.00,434.43 L105.50,434.05 L106.00,433.66 L106.50,433.27 L107.00,432.88 L107.50,432.48 L108.00,432.08 L108.50,431.68 L109.00,431.27 L109.50,430.86 L110.00,430.45 L110.50,430.04 L111.00,429.62 L111.50,429.20 L112.00,428.77 L112.50,428.35 L113.00,427.92 L113.50,427.48 L114.00,427.05 L114.50,426.61 L115.00,426.16 L115.50,425.72 L116.00,425.27 L116.50,424.82 L117.00,424.36 L117.50,423.90 L118.00,423.44 L118.50,422.98 L119.00,422.51 L119.50,422.04 L120.00,421.57 L120.50,421.09 L121.00,420.61 L121.50,420.13 L122.00,419.64 L122.50,419.15 L123.00,418.66 L123.50,418.16 L124.00,417.67 L124.50,417.16 L125.00,416.66 L125.50,416.15 L126.00,415.64 L126.50,415.13 L127.00,414.61 L127.50,414.09 L128.00,413.57 L128.50,413.04 L129.00,412.51 L129.50,411.98 L130.00,411.44 L130.50,410.91 L131.00,410.36 L131.50,409.82 L132.00,409.27 L132.50,408.72 L133.00,408.17 L133.50,407.61 L134.00,407.05 L134.50,406.49 L135.00,405.92 L135.50,405.35 L136.00,404.78 L136.50,404.20 L137.00,403.62 L137.50,403.04 L138.00,402.46 L138.50,401.87 L139.00,401.28 L139.50,400.68 L140.00,400.09 L140.50,399.49 L141.00,398.88 L141.50,398.28 L142.00,397.67 L142.50,397.05 L143.00,396.44 L143.50,395.82 L144.00,395.20 L144.50,394.57 L145.00,393.94 L145.50,393.31 L146.00,392.68 L146.50,392.04 L147.00,391.40 L147.50,390.76 L148.00,390.11 L148.50,389.46 L149.00,388.81 L149.50,388.15 L150.00,387.49 L150.50,386.83 L151.00,386.16 L151.50,385.50 L152.00,384.82 L152.50,384.15 L153.00,383.47 L153.50,382.79 L154.00,382.11 L154.50,381.42 L155.00,380.73 L155.50,380.04 L156.00,379.34 L156.50,378.64 L157.00,377.94 L157.50,377.24 L158.00,376.53 L158.50,375.81 L159.00,375.10 L159.50,374.38 L160.00,373.66 L160.50,372.94 L161.00,372.21 L161.50,371.48 L162.00,370.75 L162.50,370.01 L163.00,369.27 L163.50,368.53 L164.00,367.78 L164.50,367.03 L165.00,366.28 L165.50,365.53 L166.00,364.77 L166.50,364.01 L167.00,363.24 L167.50,362.48 L168.00,361.71 L168.50,360.93 L169.00,360.16 L169.50,359.38 L170.00,358.60 L170.50,357.81 L171.00,357.02 L171.50,356.23 L172.00,355.43 L172.50,354.64 L173.00,353.83 L173.50,353.03 L174.00,352.22 L174.50,351.41 L175.00,350.60 L175.50,349.78 L176.00,348.96 L176.50,348.14 L177.00,347.31 L177.50,346.48 L178.00,345.65 L178.50,344.82 L179.00,343.98 L179.50,343.14 L180.00,342.29 L180.50,341.44 L181.00,340.59 L181.50,339.74 L182.00,338.88 L182.50,338.02 L183.00,337.16 L183.50,336.29 L184.00,335.43 L184.50,334.55 L185.00,333.68 L185.50,332.80 L186.00,331.92 L186.50,331.03 L187.00,330.14 L187.50,329.25 L188.00,328.36 L188.50,327.46 L189.00,326.56 L189.50,325.66 L190.00,324.75 L190.50,323.84 L191.00,322.93 L191.50,322.02 L192.00,321.10 L192.50,320.18 L193.00,319.25 L193.50,318.32 L194.00,317.39 L194.50,316.46 L195.00,315.52 L195.50,314.58 L196.00,313.64 L196.50,312.69 L197.00,311.74 L197.50,310.79 L198.00,309.83 L198.50,308.87 L199.00,307.91 L199.50,306.95 L200.00,306.00 L200.50,305.07 L201.00,304.16 L201.50,303.28 L202.00,302.42 L202.50,301.59 L203.00,300.77 L203.50,299.98 L204.00,299.21 L204.50,298.47 L205.00,297.75 L205.50,297.05 L206.00,296.37 L206.50,295.71 L207.00,295.08 L207.50,294.47 L208.00,293.89 L208.50,293.32 L209.00,292.78 L209.50,292.26 L210.00,291.77 L210.50,291.30 L211.00,290.85 L211.50,290.42 L212.00,290.02 L212.50,289.63 L213.00,289.28 L213.50,288.94 L214.00,288.63 L214.50,288.34 L215.00,288.07 L215.50,287.82 L216.00,287.60 L216.50,287.40 L217.00,287.22 L217.50,287.07 L218.00,286.94 L218.50,286.83 L219.00,286.75 L219.50,286.68 L220.00,286.64 L220.50,286.62 L221.00,286.63 L221.50,286.66 L222.00,286.71 L222.50,286.78 L223.00,286.88 L223.50,287.00 L224.00,287.14 L224.50,287.30 L225.00,287.49 L225.50,287.70 L226.00,287.93 L226.50,288.19 L227.00,288.47 L227.50,288.77 L228.00,289.09 L228.50,289.44 L229.00,289.81 L229.50,290.20 L230.00,290.62 L230.50,291.05 L231.00,291.51 L231.50,292.00 L232.00,292.50 L232.50,293.03 L233.00,293.58 L233.50,294.16 L234.00,294.75 L234.50,295.37 L235.00,296.01 L235.50,296.68 L236.00,297.37 L236.50,298.08 L237.00,298.81 L237.50,299.57 L238.00,300.35 L238.50,301.15 L239.00,301.97 L239.50,302.82 L240.00,303.69 L240.50,304.58 L241.00,305.50 L241.50,306.43 L242.00,307.39 L242.50,308.36 L243.00,309.32 L243.50,310.28 L244.00,311.23 L244.50,312.18 L245.00,313.13 L245.50,314.07 L246.00,315.02 L246.50,315.96 L247.00,316.89 L247.50,317.82 L248.00,318.75 L248.50,319.68 L249.00,320.60 L249.50,321.52 L250.00,322.44 L250.50,323.36 L251.00,324.27 L251.50,325.17 L252.00,326.08 L252.50,326.98 L253.00,327.88 L253.50,328.78 L254.00,329.67 L254.50,330.56 L255.00,331.44 L255.50,332.33 L256.00,333.21 L256.50,334.08 L257.00,334.96 L257.50,335.83 L258.00,336.70 L258.50,337.56 L259.00,338.42 L259.50,339.28 L260.00,340.14 L260.50,340.99 L261.00,341.84 L261.50,342.68 L262.00,343.53 L262.50,344.37 L263.00,345.20 L263.50,346.04 L264.00,346.87 L264.50,347.70 L265.00,348.52 L265.50,349.34 L266.00,350.16 L266.50,350.98 L267.00,351.79 L267.50,352.60 L268.00,353.40 L268.50,354.21 L269.00,355.01 L269.50,355.80 L270.00,356.60 L270.50,357.39 L271.00,358.17 L271.50,358.96 L272.00,359.74 L272.50,360.52 L273.00,361.29 L273.50,362.07 L274.00,362.83 L274.50,363.60 L275.00,364.36 L275.50,365.12 L276.00,365.88 L276.50,366.63 L277.00,367.38 L277.50,368.13 L278.00,368.87 L278.50,369.62 L279.00,370.35 L279.50,371.09 L280.00,371.82 L280.50,372.55 L281.00,373.27 L281.50,374.00 L282.00,374.72 L282.50,375.43 L283.00,376.15 L283.50,376.86 L284.00,377.56 L284.50,378.27 L285.00,378.97 L285.50,379.67 L286.00,380.36 L286.50,381.05 L287.00,381.74 L287.50,382.43 L288.00,383.11 L288.50,383.79 L289.00,384.46 L289.50,385.14 L290.00,385.81 L290.50,386.47 L291.00,387.14 L291.50,387.80 L292.00,388.46 L292.50,389.11 L293.00,389.76 L293.50,390.41 L294.00,391.06 L294.50,391.70 L295.00,392.34 L295.50,392.97 L296.00,393.61 L296.50,394.24 L297.00,394.86 L297.50,395.49 L298.00,396.11 L298.50,396.72 L299.00,397.34 L299.50,397.95 L300.00,398.56 L300.50,399.16 L301.00,399.76 L301.50,400.36 L302.00,400.96 L302.50,401.55 L303.00,402.14 L303.50,402.73 L304.00,403.31 L304.50,403.89 L305.00,404.47 L305.50,405.04 L306.00,405.61 L306.50,406.18 L307.00,406.75 L307.50,407.31 L308.00,407.87 L308.50,408.42 L309.00,408.98 L309.50,409.53 L310.00,410.07 L310.50,410.62 L311.00,411.16 L311.50,411.69 L312.00,412.23 L312.50,412.76 L313.00,413.29 L313.50,413.81 L314.00,414.33 L314.50,414.85 L315.00,415.37 L315.50,415.88 L316.00,416.39 L316.50,416.89 L317.00,417.40 L317.50,417.90 L318.00,418.39 L318.50,418.89 L319.00,419.38 L319.50,419.87 L320.00,420.35 L320.50,420.83 L321.00,421.31 L321.50,421.79 L322.00,422.26 L322.50,422.73 L323.00,423.19 L323.50,423.66 L324.00,424.12 L324.50,424.57 L325.00,425.03 L325.50,425.48 L326.00,425.92 L326.50,426.37 L327.00,426.81 L327.50,427.25 L328.00,427.68 L328.50,428.12 L329.00,428.54 L329.50,428.97 L330.00,429.39 L330.50,429.81 L331.00,430.23 L331.50,430.64 L332.00,431.05 L332.50,431.46 L333.00,431.86 L333.50,432.27 L334.00,432.66 L334.50,433.06 L335.00,433.45 L335.50,433.84 L336.00,434.22 L336.50,434.61 L337.00,434.99 L337.50,435.36 L338.00,435.74 L338.50,436.11 L339.00,436.47 L339.50,436.84 L340.00,437.20 L340.50,437.56 L341.00,437.91 L341.50,438.26 L342.00,438.61 L342.50,438.96 L343.00,439.30 L343.50,439.64 L344.00,439.97 L344.50,440.31 L345.00,440.64 L345.50,440.97 L346.00,441.29 L346.50,441.61 L347.00,441.93 L347.50,442.24 L348.00,442.55 L348.50,442.86 L349.00,443.17 L349.50,443.47 L350.00,443.77 L350.50,444.06 L351.00,444.35 L351.50,444.64 L352.00,444.93 L352.50,445.21 L353.00,445.49 L353.50,445.77 L354.00,446.04 L354.50,446.31 L355.00,446.57 L355.50,446.83 L356.00,447.09 L356.50,447.35 L357.00,447.60 L357.50,447.85 L358.00,448.10 L358.50,448.34 L359.00,448.58 L359.50,448.82 L360.00,449.05 L360.50,449.28 L361.00,449.51 L361.50,449.73 L362.00,449.95 L362.50,450.16 L363.00,450.38 L363.50,450.59 L364.00,450.79 L364.50,451.00 L365.00,451.20 L365.50,451.39 L366.00,451.59 L366.50,451.78 L367.00,451.97 L367.50,452.15 L368.00,452.33 L368.50,452.51 L369.00,452.68 L369.50,452.85 L370.00,453.02 L370.50,453.18 L371.00,453.34 L371.50,453.50 L372.00,453.65 L372.50,453.80 L373.00,453.95 L373.50,454.10 L374.00,454.24 L374.50,454.38 L375.00,454.51 L375.50,454.64 L376.00,454.77 L376.50,454.89 L377.00,455.01 L377.50,455.13 L378.00,455.25 L378.50,455.36 L379.00,455.47 L379.50,455.57 L380.00,455.67 L380.50,455.77 L381.00,455.87 L381.50,455.96 L382.00,456.05 L382.50,456.13 L383.00,456.21 L383.50,456.29 L384.00,456.37 L384.50,456.44 L385.00,456.51 L385.50,456.57 L386.00,456.64 L386.50,456.70 L387.00,456.75 L387.50,456.80 L388.00,456.85 L388.50,456.90 L389.00,456.94 L389.50,456.98 L390.00,457.02 L390.50,457.05 L391.00,457.08 L391.50,457.10 L392.00,457.13 L392.50,457.15 L393.00,457.16 L393.50,457.18 L394.00,457.19 L394.50,457.19 L395.00,457.19 L395.50,457.19 L396.00,457.19 L396.50,457.18 L397.00,457.17 L397.50,457.16 L398.00,457.14 L398.50,457.12 L399.00,457.10 L399.50,457.08 L400.00,457.05 L400.50,457.01 L401.00,456.98 L401.50,456.94 L402.00,456.89 L402.50,456.85 L403.00,456.80 L403.50,456.75 L404.00,456.69 L404.50,456.63 L405.00,456.57 L405.50,456.50 L406.00,456.43 L406.50,456.36 L407.00,456.28 L407.50,456.21 L408.00,456.12 L408.50,456.04 L409.00,455.95 L409.50,455.86 L410.00,455.76 L410.50,455.66 L411.00,455.56 L411.50,455.46 L412.00,455.35 L412.50,455.24 L413.00,455.12 L413.50,455.00 L414.00,454.88 L414.50,454.76 L415.00,454.63 L415.50,454.50 L416.00,454.36 L416.50,454.22 L417.00,454.08 L417.50,453.94 L418.00,453.79 L418.50,453.64 L419.00,453.48 L419.50,453.33 L420.00,453.16 L420.50,453.00 L421.00,452.83 L421.50,452.66 L422.00,452.49 L422.50,452.31 L423.00,452.13 L423.50,451.95 L424.00,451.76 L424.50,451.57 L425.00,451.37 L425.50,451.18 L426.00,450.98 L426.50,450.77 L427.00,450.57 L427.50,450.36 L428.00,450.14 L428.50,449.93 L429.00,449.71 L429.50,449.48 L430.00,449.26 L430.50,449.03 L431.00,448.79 L431.50,448.56 L432.00,448.32 L432.50,448.07 L433.00,447.83 L433.50,447.58 L434.00,447.32 L434.50,447.07 L435.00,446.81 L435.50,446.54 L436.00,446.28 L436.50,446.01 L437.00,445.74 L437.50,445.46 L438.00,445.18 L438.50,444.90 L439.00,444.61 L439.50,444.32 L440.00,444.03 L440.50,443.74 L441.00,443.44 L441.50,443.14 L442.00,442.83 L442.50,442.52 L443.00,442.21 L443.50,441.89 L444.00,441.58 L444.50,441.26 L445.00,440.93 L445.50,440.60 L446.00,440.27 L446.50,439.94 L447.00,439.60 L447.50,439.26 L448.00,438.92 L448.50,438.58 L449.00,438.23 L449.50,437.87 L450.00,437.52 L450.50,437.16 L451.00,436.80 L451.50,436.44 L452.00,436.07 L452.50,435.70 L453.00,435.32 L453.50,434.95 L454.00,434.57 L454.50,434.18 L455.00,433.80 L455.50,433.41 L456.00,433.02 L456.50,432.62 L457.00,432.22 L457.50,431.82 L458.00,431.42 L458.50,431.01 L459.00,430.60 L459.50,430.19 L460.00,429.77 L460.50,429.35 L461.00,428.93 L461.50,428.50 L462.00,428.07 L462.50,427.64 L463.00,427.20 L463.50,426.76 L464.00,426.32 L464.50,425.88 L465.00,425.43 L465.50,424.98 L466.00,424.53 L466.50,424.07 L467.00,423.61 L467.50,423.14 L468.00,422.68 L468.50,422.21 L469.00,421.74 L469.50,421.26 L470.00,420.78 L470.50,420.30 L471.00,419.82 L471.50,419.33 L472.00,418.84 L472.50,418.34 L473.00,417.85 L473.50,417.34 L474.00,416.84 L474.50,416.33 L475.00,415.83 L475.50,415.31 L476.00,414.80 L476.50,414.28 L477.00,413.76 L477.50,413.23 L478.00,412.70 L478.50,412.17 L479.00,411.64 L479.50,411.10 L480.00,410.56 L480.50,410.02 L481.00,409.47 L481.50,408.92 L482.00,408.37 L482.50,407.81 L483.00,407.25 L483.50,406.69 L484.00,406.12 L484.50,405.56 L485.00,404.98 L485.50,404.41 L486.00,403.83 L486.50,403.25 L487.00,402.67 L487.50,402.08 L488.00,401.49 L488.50,400.90 L489.00,400.30 L489.50,399.70 L490.00,399.10 L490.50,398.49 L491.00,397.89 L491.50,397.27 L492.00,396.66 L492.50,396.04 L493.00,395.42 L493.50,394.80 L494.00,394.17 L494.50,393.54 L495.00,392.91 L495.50,392.27 L496.00,391.63 L496.50,390.99 L497.00,390.34 L497.50,389.69 L498.00,389.04 L498.50,388.39 L499.00,387.73 L499.50,387.07 L500.00,386.40 L500.50,385.74 L501.00,385.07 L501.50,384.39 L502.00,383.72 L502.50,383.04 L503.00,382.35 L503.50,381.67 L504.00,380.98 L504.50,380.29 L505.00,379.59 L505.50,378.90 L506.00,378.19 L506.50,377.49 L507.00,376.78 L507.50,376.07 L508.00,375.36 L508.50,374.64 L509.00,373.92 L509.50,373.20 L510.00,372.47 L510.50,371.74 L511.00,371.01 L511.50,370.28 L512.00,369.54 L512.50,368.80 L513.00,368.05 L513.50,367.30 L514.00,366.55 L514.50,365.80 L515.00,365.04 L515.50,364.28 L516.00,363.52 L516.50,362.75 L517.00,361.99 L517.50,361.21 L518.00,360.44 L518.50,359.66 L519.00,358.88 L519.50,358.09 L520.00,357.31 L520.50,356.51 L521.00,355.72 L521.50,354.92 L522.00,354.12 L522.50,353.32 L523.00,352.51 L523.50,351.70 L524.00,350.89 L524.50,350.08 L525.00,349.26 L525.50,348.44 L526.00,347.61 L526.50,346.78 L527.00,345.95 L527.50,345.12 L528.00,344.28 L528.50,343.44 L529.00,342.60 L529.50,341.75 L530.00,340.90 L530.50,340.05 L531.00,339.19 L531.50,338.33 L532.00,337.47 L532.50,336.61 L533.00,335.74 L533.50,334.87 L534.00,333.99 L534.50,333.12 L535.00,332.24 L535.50,331.35 L536.00,330.47 L536.50,329.58 L537.00,328.68 L537.50,327.79 L538.00,326.89 L538.50,325.99 L539.00,325.08" stroke="#000" stroke-width="1.0"/>
<path d="M47.00,457.19 L47.50,457.18 L48.00,457.17 L48.50,457.16 L49.00,457.14 L49.50,457.12 L50.00,457.09 L50.50,457.06 L51.00,457.03 L51.50,457.00 L52.00,456.96 L52.50,456.92 L53.00,456.88 L53.50,456.83 L54.00,456.78 L54.50,456.73 L55.00,456.67 L55.50,456.61 L56.00,456.54 L56.50,456.48 L57.00,456.41 L57.50,456.33 L58.00,456.26 L58.50,456.18 L59.00,456.09 L59.50,456.01 L60.00,455.92 L60.50,455.82 L61.00,455.73 L61.50,455.63 L62.00,455.52 L62.50,455.42 L63.00,455.31 L63.50,455.19 L64.00,455.08 L64.50,454.96 L65.00,454.84 L65.50,454.71 L66.00,454.58 L66.50,454.45 L67.00,454.31 L67.50,454.17 L68.00,454.03 L68.50,453.88 L69.00,453.74 L69.50,453.58 L70.00,453.43 L70.50,453.27 L71.00,453.11 L71.50,452.94 L72.00,452.77 L72.50,452.60 L73.00,452.42 L73.50,452.25 L74.00,452.06 L74.50,451.88 L75.00,451.69 L75.50,451.50 L76.00,451.30 L76.50,451.11 L77.00,450.90 L77.50,450.70 L78.00,450.49 L78.50,450.28 L79.00,450.06 L79.50,449.85 L80.00,449.62 L80.50,449.40 L81.00,449.17 L81.50,448.94 L82.00,448.71 L82.50,448.47 L83.00,448.23 L83.50,447.98 L84.00,447.74 L84.50,447.49 L85.00,447.23 L85.50,446.97 L86.00,446.71 L86.50,446.45 L87.00,446.18 L87.50,445.91 L88.00,445.64 L88.50,445.36 L89.00,445.08 L89.50,444.80 L90.00,444.51 L90.50,444.22 L91.00,443.93 L91.50,443.63 L92.00,443.33 L92.50,443.03 L93.00,442.72 L93.50,442.41 L94.00,442.10 L94.50,441.78 L95.00,441.46 L95.50,441.14 L96.00,440.81 L96.50,440.49 L97.00,440.15 L97.50,439.82 L98.00,439.48 L98.50,439.14 L99.00,438.80 L99.50,438.45 L100.00,438.10 L100.50,437.75 L101.00,437.39 L101.50,437.03 L102.00,436.67 L102.50,436.30 L103.00,435.94 L103.50,435.56 L104.00,435.19 L104.50,434.81 L105.00,434.43 L105.50,434.05 L106.00,433.66 L106.50,433.27 L107.00,432.88 L107.50,432.48 L108.00,432.08 L108.50,431.68 L109.00,431.27 L109.50,430.86 L110.00,430.45 L110.50,430.04 L111.00,429.62 L111.50,429.20 L112.00,428.77 L112.50,428.35 L113.00,427.92 L113.50,427.48 L114.00,427.05 L114.50,426.61 L115.00,426.16 L115.50,425.72 L116.00,425.27 L116.50,424.82 L117.00,424.36 L117.50,423.90 L118.00,423.44 L118.50,422.98 L119.00,422.51 L119.50,422.04 L120.00,421.57 L120.50,421.09 L121.00,420.61 L121.50,420.13 L122.00,419.64 L122.50,419.15 L123.00,418.66 L123.50,418.16 L124.00,417.67 L124.50,417.16 L125.00,416.66 L125.50,416.15 L126.00,415.64 L126.50,415.13 L127.00,414.61 L127.50,414.09 L128.00,413.57 L128.50,413.04 L129.00,412.51 L129.50,411.98 L130.00,411.44 L130.50,410.91 L131.00,410.36 L131.50,409.82 L132.00,409.27 L132.50,408.72 L133.00,408.17 L133.50,407.61 L134.00,407.05 L134.50,406.49 L135.00,405.92 L135.50,405.35 L136.00,404.78 L136.50,404.20 L137.00,403.62 L137.50,403.04 L138.00,402.46 L138.50,401.87 L139.00,401.28 L139.50,400.68 L140.00,400.09 L140.50,399.49 L141.00,398.88 L141.50,398.28 L142.00,397.67 L142.50,397.05 L143.00,396.44 L143.50,395.82 L144.00,395.20 L144.50,394.57 L145.00,393.94 L145.50,393.31 L146.00,392.68 L146.50,392.04 L147.00,391.40 L147.50,390.76 L148.00,390.11 L148.50,389.46 L149.00,388.81 L149.50,388.15 L150.00,387.49 L150.50,386.83 L151.00,386.16 L151.50,385.50 L152.00,384.82 L152.50,384.15 L153.00,383.47 L153.50,382.79 L154.00,382.11 L154.50,381.42 L155.00,380.73 L155.50,380.04 L156.00,379.34 L156.50,378.64 L157.00,377.94 L157.50,377.24 L158.00,376.53 L158.50,375.81 L159.00,375.10 L159.50,374.38 L160.00,373.66 L160.50,372.94 L161.00,372.21 L161.50,371.48 L162.00,370.75 L162.50,370.01 L163.00,369.27 L163.50,368.53 L164.00,367.78 L164.50,367.03 L165.00,366.28 L165.50,365.53 L166.00,364.77 L166.50,364.01 L167.00,363.24 L167.50,362.48 L168.00,361.71 L168.50,360.93 L169.00,360.16 L169.50,359.38 L170.00,358.60 L170.50,357.81 L171.00,357.02 L171.50,356.23 L172.00,355.43 L172.50,354.64 L173.00,353.83 L173.50,353.03 L174.00,352.22 L174.50,351.41 L175.00,350.60 L175.50,349.78 L176.00,348.96 L176.50,348.14 L177.00,347.31 L177.50,346.48 L178.00,345.65 L178.50,344.82 L179.00,343.98 L179.50,343.14 L180.00,342.29 L180.50,341.44 L181.00,340.59 L181.50,339.74 L182.00,338.88 L182.50,338.02 L183.00,337.16 L183.50,336.29 L184.00,335.43 L184.50,334.55 L185.00,333.68 L185.50,332.80 L186.00,331.92 L186.50,331.03 L187.00,330.14 L187.50,329.25 L188.00,328.36 L188.50,327.46 L189.00,326.56 L189.50,325.66 L190.00,324.75 L190.50,323.84 L191.00,322.93 L191.50,322.02 L192.00,321.10 L192.50,320.18 L193.00,319.25 L193.50,318.32 L194.00,317.39 L194.50,316.46 L195.00,315.52 L195.50,314.58 L196.00,313.64 L196.50,312.69 L197.00,311.74 L197.50,310.79 L198.00,309.83 L198.50,308.87 L199.00,307.91 L199.50,306.95 L200.00,306.00 L200.50,305.07 L201.00,304.16 L201.50,303.28 L202.00,302.42 L202.50,301.59 L203.00,300.77 L203.50,299.98 L204.00,299.21 L204.50,298.47 L205.00,297.75 L205.50,297.05 L206.00,296.37 L206.50,295.71 L207.00,295.08 L207.50,294.47 L208.00,293.89 L208.50,293.32 L209.00,292.78 L209.50,292.26 L210.00,291.77 L210.50,291.30 L211.00,290.85 L211.50,290.42 L212.00,290.02 L212.50,289.63 L213.00,289.28 L213.50,288.94 L214.00,288.63 L214.50,288.34 L215.00,288.07 L215.50,287.82 L216.00,287.60 L216.50,287.40 L217.00,287.22 L217.50,287.07 L218.00,286.94 L218.50,286.83 L219.00,286.75 L219.50,286.68 L220.00,286.64 L220.50,286.62 L221.00,286.63 L221.50,286.66 L222.00,286.71 L222.50,286.78 L223.00,286.88 L223.50,287.00 L224.00,287.14 L224.50,287.30 L225.00,287.49 L225.50,287.70 L226.00,287.93 L226.50,288.19 L227.00,288.47 L227.50,288.77 L228.00,289.09 L228.50,289.44 L229.00,289.81 L229.50,290.20 L230.00,290.62 L230.50,291.05 L231.00,291.51 L231.50,292.00 L232.00,292.50 L232.50,293.03 L233.00,293.58 L233.50,294.16 L234.00,294.75 L234.50,295.37 L235.00,296.01 L235.50,296.68 L236.00,297.37 L236.50,298.08 L237.00,298.81 L237.50,299.57 L238.00,300.35 L238.50,301.15 L239.00,301.97 L239.50,302.82 L240.00,303.69 L240.50,304.58 L241.00,305.50 L241.50,306.43 L242.00,307.39 L242.50,308.36 L243.00,309.32 L243.50,310.28 L244.00,311.23 L244.50,312.18 L245.00,313.13 L245.50,314.07 L246.00,315.02 L246.50,315.96 L247.00,316.89 L247.50,317.82 L248.00,318.75 L248.50,319.68 L249.00,320.60 L249.50,321.52 L250.00,322.44 L250.50,323.36 L251.00,324.27 L251.50,325.17 L252.00,326.08 L252.50,326.98 L253.00,327.88 L253.50,328.78 L254.00,329.67 L254.50,330.56 L255.00,331.44 L255.50,332.33 L256.00,333.21 L256.50,334.08 L257.00,334.96 L257.50,335.83 L258.00,336.70 L258.50,337.56 L259.00,338.42 L259.50,339.28 L260.00,340.14 L260.50,340.99 L261.00,341.84 L261.50,342.68 L262.00,343.53 L262.50,344.37 L263.00,345.20 L263.50,346.04 L264.00,346.87 L264.50,347.70 L265.00,348.52 L265.50,349.34 L266.00,350.16 L266.50,350.98 L267.00,351.79 L267.50,352.60 L268.00,353.40 L268.50,354.21 L269.00,355.01 L269.50,355.80 L270.00,356.60 L270.50,357.39 L271.00,358.17 L271.50,358.96 L272.00,359.74 L272.50,360.52 L273.00,361.29 L273.50,362.07 L274.00,362.83 L274.50,363.60 L275.00,364.36 L275.50,365.12 L276.00,365.88 L276.50,366.63 L277.00,367.38 L277.50,368.13 L278.00,368.87 L278.50,369.62 L279.00,370.35 L279.50,371.09 L280.00,371.82 L280.50,372.55 L281.00,373.27 L281.50,374.00 L282.00,374.72 L282.50,375.43 L283.00,376.15 L283.50,376.86 L284.00,377.56 L284.50,378.27 L285.00,378.97 L285.50,379.67 L286.00,380.36 L286.50,381.05 L287.00,381.74 L287.50,382.43 L288.00,383.11 L288.50,383.79 L289.00,384.46 L289.50,385.14 L290.00,385.81 L290.50,386.47 L291.00,387.14 L291.50,387.80 L292.00,388.46 L292.50,389.11 L293.00,389.76 L293.50,390.41 L294.00,391.06 L294.50,391.70 L295.00,392.34 L295.50,392.97 L296.00,393.61 L296.50,394.24 L297.00,394.86 L297.50,395.49 L298.00,396.11 L298.50,396.72 L299.00,397.34 L299.50,397.95 L300.00,398.56 L300.50,399.16 L301.00,399.76 L301.50,400.36 L302.00,400.96 L302.50,401.55 L303.00,402.14 L303.50,402.73 L304.00,403.31 L304.50,403.89 L305.00,404.47 L305.50,405.04 L306.00,405.61 L306.50,406.18 L307.00,406.75 L307.50,407.31 L308.00,407.87 L308.50,408.42 L309.00,408.98 L309.50,409.53 L310.00,410.07 L310.50,410.62 L311.00,411.16 L311.50,411.69 L312.00,412.23 L312.50,412.76 L313.00,413.29 L313.50,413.81 L314.00,414.33 L314.50,414.85 L315.00,415.37 L315.50,415.88 L316.00,416.39 L316.50,416.89 L317.00,417.40 L317.50,417.90 L318.00,418.39 L318.50,418.89 L319.00,419.38 L319.50,419.87 L320.00,420.35 L320.50,420.83 L321.00,421.31 L321.50,421.79 L322.00,422.26 L322.50,422.73 L323.00,423.19 L323.50,423.66 L324.00,424.12 L324.50,424.57 L325.00,425.03 L325.50,425.48 L326.00,425.92 L326.50,426.37 L327.00,426.81 L327.50,427.25 L328.00,427.68 L328.50,428.12 L329.00,428.54 L329.50,428.97 L330.00,429.39 L330.50,429.81 L331.00,430.23 L331.50,430.64 L332.00,431.05 L332.50,431.46 L333.00,431.86 L333.50,432.27 L334.00,432.66 L334.50,433.06 L335.00,433.45 L335.50,433.84 L336.00,434.22 L336.50,434.61 L337.00,434.99 L337.50,435.36 L338.00,435.74 L338.50,436.11 L339.00,436.47 L339.50,436.84 L340.00,437.20 L340.50,437.56 L341.00,437.91 L341.50,438.26 L342.00,438.61 L342.50,438.96 L343.00,439.30 L343.50,439.64 L344.00,439.97 L344.50,440.31 L345.00,440.64 L345.50,440.97 L346.00,441.29 L346.50,441.61 L347.00,441.93 L347.50,442.24 L348.00,442.55 L348.50,442.86 L349.00,443.17 L349.50,443.47 L350.00,443.77 L350.50,444.06 L351.00,444.35 L351.50,444.64 L352.00,444.93 L352.50,445.21 L353.00,445.49 L353.50,445.77 L354.00,446.04 L354.50,446.31 L355.00,446.57 L355.50,446.83 L356.00,447.09 L356.50,447.35 L357.00,447.60 L357.50,447.85 L358.00,448.10 L358.50,448.34 L359.00,448.58 L359.50,448.82 L360.00,449.05 L360.50,449.28 L361.00,449.51 L361.50,449.73 L362.00,449.95 L362.50,450.16 L363.00,450.38 L363.50,450.59 L364.00,450.79 L364.50,451.00 L365.00,451.20 L365.50,451.39 L366.00,451.59 L366.50,451.78 L367.00,451.97 L367.50,452.15 L368.00,452.33 L368.50,452.51 L369.00,452.68 L369.50,452.85 L370.00,453.02 L370.50,453.18 L371.00,453.34 L371.50,453.50 L372.00,453.65 L372.50,453.80 L373.00,453.95 L373.50,454.10 L374.00,454.24 L374.50,454.38 L375.00,454.51 L375.50,454.64 L376.00,454.77 L376.50,454.89 L377.00,455.01 L377.50,455.13 L378.00,455.25 L378.50,455.36 L379.00,455.47 L379.50,455.57 L380.00,455.67 L380.50,455.77 L381.00,455.87 L381.50,455.96 L382.00,456.05 L382.50,456.13 L383.00,456.21 L383.50,456.29 L384.00,456.37 L384.50,456.44 L385.00,456.51 L385.50,456.57 L386.00,456.64 L386.50,456.70 L387.00,456.75 L387.50,456.80 L388.00,456.85 L388.50,456.90 L389.00,456.94 L389.50,456.98 L390.00,457.02 L390.50,457.05 L391.00,457.08 L391.50,457.10 L392.00,457.13 L392.50,457.15 L393.00,457.16 L393.50,457.18 L394.00,457.19 L394.50,457.19 L395.00,457.19 L395.50,457.19 L396.00,457.19 L396.50,457.18 L397.00,457.17 L397.50,457.16 L398.00,457.14 L398.50,457.12 L399.00,457.10 L399.50,457.08 L400.00,457.05 L400.50,457.01 L401.00,456.98 L401.50,456.94 L402.00,456.89 L402.50,456.85 L403.00,456.80 L403.50,456.75 L404.00,456.69 L404.50,456.63 L405.00,456.57 L405.50,456.50 L406.00,456.43 L406.50,456.36 L407.00,456.28 L407.50,456.21 L408.00,456.12 L408.50,456.04 L409.00,455.95 L409.50,455.86 L410.00,455.76 L410.50,455.66 L411.00,455.56 L411.50,455.46 L412.00,455.35 L412.50,455.24 L413.00,455.12 L413.50,455.00 L414.00,454.88 L414.50,454.76 L415.00,454.63 L415.50,454.50 L416.00,454.36 L416.50,454.22 L417.00,454.08 L417.50,453.94 L418.00,453.79 L418.50,453.64 L419.00,453.48 L419.50,453.33 L420.00,453.16 L420.50,453.00 L421.00,452.83 L421.50,452.66 L422.00,452.49 L422.50,452.31 L423.00,452.13 L423.50,451.95 L424.00,451.76 L424.50,451.57 L425.00,451.37 L425.50,451.18 L426.00,450.98 L426.50,450.77 L427.00,450.57 L427.50,450.36 L428.00,450.14 L428.50,449.93 L429.00,449.71 L429.50,449.48 L430.00,449.26 L430.50,449.03 L431.00,448.79 L431.50,448.56 L432.00,448.32 L432.50,448.07 L433.00,447.83 L433.50,447.58 L434.00,447.32 L434.50,447.07 L435.00,446.81 L435.50,446.54 L436.00,446.28 L436.50,446.01 L437.00,445.74 L437.50,445.46 L438.00,445.18 L438.50,444.90 L439.00,444.61 L439.50,444.32 L440.00,444.03 L440.50,443.74 L441.00,443.44 L441.50,443.14 L442.00,442.83 L442.50,442.52 L443.00,442.21 L443.50,441.89 L444.00,441.58 L444.50,441.26 L445.00,440.93 L445.50,440.60 L446.00,440.27 L446.50,439.94 L447.00,439.60 L447.50,439.26 L448.00,438.92 L448.50,438.58 L449.00,438.23 L449.50,437.87 L450.00,437.52 L450.50,437.16 L451.00,436.80 L451.50,436.44 L452.00,436.07 L452.50,435.70 L453.00,435.32 L453.50,434.95 L454.00,434.57 L454.50,434.18 L455.00,433.80 L455.50,433.41 L456.00,433.02 L456.50,432.62 L457.00,432.22 L457.50,431.82 L458.00,431.42 L458.50,431.01 L459.00,430.60 L459.50,430.19 L460.00,429.77 L460.50,429.35 L461.00,428.93 L461.50,428.50 L462.00,428.07 L462.50,427.64 L463.00,427.20 L463.50,426.76 L464.00,426.32 L464.50,425.88 L465.00,425.43 L465.50,424.98 L466.00,424.53 L466.50,424.07 L467.00,423.61 L467.50,423.14 L468.00,422.68 L468.50,422.21 L469.00,421.74 L469.50,421.26 L470.00,420.78 L470.50,420.30 L471.00,419.82 L471.50,419.33 L472.00,418.84 L472.50,418.34 L473.00,417.85 L473.50,417.34 L474.00,416.84 L474.50,416.33 L475.00,415.83 L475.50,415.31 L476.00,414.80 L476.50,414.28 L477.00,413.76 L477.50,413.23 L478.00,412.70 L478.50,412.17 L479.00,411.64 L479.50,411.10 L480.00,410.56 L480.50,410.02 L481.00,409.47 L481.50,408.92 L482.00,408.37 L482.50,407.81 L483.00,407.25 L483.50,406.69 L484.00,406.12 L484.50,405.56 L485.00,404.98 L485.50,404.41 L486.00,403.83 L486.50,403.25 L487.00,402.67 L487.50,402.08 L488.00,401.49 L488.50,400.90 L489.00,400.30 L489.50,399.70 L490.00,399.10 L490.50,398.49 L491.00,397.89 L491.50,397.27 L492.00,396.66 L492.50,396.04 L493.00,395.42 L493.50,394.80 L494.00,394.17 L494.50,393.54 L495.00,392.91 L495.50,392.27 L496.00,391.63 L496.50,390.99 L497.00,390.34 L497.50,389.69 L498.00,389.04 L498.50,388.39 L499.00,387.73 L499.50,387.07 L500.00,386.40 L500.50,385.74 L501.00,385.07 L501.50,384.39 L502.00,383.72 L502.50,383.04 L503.00,382.35 L503.50,381.67 L504.00,380.98 L504.50,380.29 L505.00,379.59 L505.50,378.90 L506.00,378.19 L506.50,377.49 L507.00,376.78 L507.50,376.07 L508.00,375.36 L508.50,374.64 L509.00,373.92 L509.50,373.20 L510.00,372.47 L510.50,371.74 L511.00,371.01 L511.50,370.28 L512.00,369.54 L512.50,368.80 L513.00,368.05 L513.50,367.30 L514.00,366.55 L514.50,365.80 L515.00,365.04 L515.50,364.28 L516.00,363.52 L516.50,362.75 L517.00,361.99 L517.50,361.21 L518.00,360.44 L518.50,359.66 L519.00,358.88 L519.50,358.09 L520.00,357.31 L520.50,356.51 L521.00,355.72 L521.50,354.92 L522.00,354.12 L522.50,353.32 L523.00,352.51 L523.50,351.70 L524.00,350.89 L524.50,350.08 L525.00,349.26 L525.50,348.44 L526.00,347.61 L526.50,346.78 L527.00,345.95 L527.50,345.12 L528.00,344.28 L528.50,343.44 L529.00,342.60 L529.50,341.75 L530.00,340.90 L530.50,340.05 L531.00,339.19 L531.50,338.33 L532.00,337.47 L532.50,336.61 L533.00,335.74 L533.50,334.87 L534.00,333.99 L534.50,333.12 L535.00,332.24 L535.50,331.35 L536.00,330.47 L536.50,329.58 L537.00,328.68 L537.50,327.79 L538.00,326.89 L538.50,325.99 L539.00,325.08" stroke="#1010ff" stroke-width="1.15" stroke-dasharray="4.1 1.1 1.6 1.1"/>
</g>
<g stroke="#3a3a3a" stroke-width="1" fill="none">
<line x1="97.44" y1="200.90" x2="97.44" y2="196.00"/>
<line x1="97.44" y1="7.20" x2="97.44" y2="12.10"/>
<line x1="146.32" y1="200.90" x2="146.32" y2="196.00"/>
<line x1="146.32" y1="7.20" x2="146.32" y2="12.10"/>
<line x1="195.20" y1="200.90" x2="195.20" y2="196.00"/>
<line x1="195.20" y1="7.20" x2="195.20" y2="12.10"/>
<line x1="244.09" y1="200.90" x2="244.09" y2="196.00"/>
<line x1="244.09" y1="7.20" x2="244.09" y2="12.10"/>
<line x1="292.97" y1="200.90" x2="292.97" y2="196.00"/>
<line x1="292.97" y1="7.20" x2="292.97" y2="12.10"/>
<line x1="341.86" y1="200.90" x2="341.86" y2="196.00"/>
<line x1="341.86" y1="7.20" x2="341.86" y2="12.10"/>
<line x1="390.75" y1="200.90" x2="390.75" y2="196.00"/>
<line x1="390.75" y1="7.20" x2="390.75" y2="12.10"/>
<line x1="439.63" y1="200.90" x2="439.63" y2="196.00"/>
<line x1="439.63" y1="7.20" x2="439.63" y2="12.10"/>
<line x1="488.51" y1="200.90" x2="488.51" y2="196.00"/>
<line x1="488.51" y1="7.20" x2="488.51" y2="12.10"/>
<line x1="48.55" y1="168.62" x2="53.45" y2="168.62"/>
<line x1="537.40" y1="168.62" x2="532.50" y2="168.62"/>
<line x1="48.55" y1="136.33" x2="53.45" y2="136.33"/>
<line x1="537.40" y1="136.33" x2="532.50" y2="136.33"/>
<line x1="48.55" y1="104.05" x2="53.45" y2="104.05"/>
<line x1="537.40" y1="104.05" x2="532.50" y2="104.05"/>
<line x1="48.55" y1="71.77" x2="53.45" y2="71.77"/>
<line x1="537.40" y1="71.77" x2="532.50" y2="71.77"/>
<line x1="48.55" y1="39.48" x2="53.45" y2="39.48"/>
<line x1="537.40" y1="39.48" x2="532.50" y2="39.48"/>
<line x1="97.44" y1="470.45" x2="97.44" y2="465.55"/>
<line x1="97.44" y1="276.45" x2="97.44" y2="281.35"/>
<line x1="146.32" y1="470.45" x2="146.32" y2="465.55"/>
<line x1="146.32" y1="276.45" x2="146.32" y2="281.35"/>
<line x1="195.20" y1="470.45" x2="195.20" y2="465.55"/>
<line x1="195.20" y1="276.45" x2="195.20" y2="281.35"/>
<line x1="244.09" y1="470.45" x2="244.09" y2="465.55"/>
<line x1="244.09" y1="276.45" x2="244.09" y2="281.35"/>
<line x1="292.97" y1="470.45" x2="292.97" y2="465.55"/>
<line x1="292.97" y1="276.45" x2="292.97" y2="281.35"/>
<line x1="341.86" y1="470.45" x2="341.86" y2="465.55"/>
<line x1="341.86" y1="276.45" x2="341.86" y2="281.35"/>
<line x1="390.75" y1="470.45" x2="390.75" y2="465.55"/>
<line x1="390.75" y1="276.45" x2="390.75" y2="281.35"/>
<line x1="439.63" y1="470.45" x2="439.63" y2="465.55"/>
<line x1="439.63" y1="276.45" x2="439.63" y2="281.35"/>
<line x1="488.51" y1="470.45" x2="488.51" y2="465.55"/>
<line x1="488.51" y1="276.45" x2="488.51" y2="281.35"/>
<line x1="48.55" y1="438.12" x2="53.45" y2="438.12"/>
<line x1="537.40" y1="438.12" x2="532.50" y2="438.12"/>
<line x1="48.55" y1="405.78" x2="53.45" y2="405.78"/>
<line x1="537.40" y1="405.78" x2="532.50" y2="405.78"/>
<line x1="48.55" y1="373.45" x2="53.45" y2="373.45"/>
<line x1="537.40" y1="373.45" x2="532.50" y2="373.45"/>
<line x1="48.55" y1="341.12" x2="53.45" y2="341.12"/>
<line x1="537.40" y1="341.12" x2="532.50" y2="341.12"/>
<line x1="48.55" y1="308.78" x2="53.45" y2="308.78"/>
<line x1="537.40" y1="308.78" x2="532.50" y2="308.78"/>
<line x1="48.05" y1="7.20" x2="537.90" y2="7.20" stroke="#303030"/>
<line x1="48.05" y1="200.90" x2="537.90" y2="200.90" stroke="#303030"/>
<line x1="48.55" y1="7.20" x2="48.55" y2="200.90"/>
<line x1="537.40" y1="7.20" x2="537.40" y2="200.90"/>
<line x1="48.05" y1="276.45" x2="537.90" y2="276.45" stroke="#404040"/>
<line x1="48.05" y1="470.45" x2="537.90" y2="470.45" stroke="#404040"/>
<line x1="48.55" y1="276.45" x2="48.55" y2="470.45"/>
<line x1="537.40" y1="276.45" x2="537.40" y2="470.45"/>
</g>
<text x="48.55" y="219.70" text-anchor="middle" textLength="7.23" lengthAdjust="spacingAndGlyphs">0</text>
<text x="97.44" y="219.70" text-anchor="middle" textLength="14.46" lengthAdjust="spacingAndGlyphs">20</text>
<text x="146.32" y="219.70" text-anchor="middle" textLength="14.46" lengthAdjust="spacingAndGlyphs">40</text>
<text x="195.20" y="219.70" text-anchor="middle" textLength="14.46" lengthAdjust="spacingAndGlyphs">60</text>
<text x="244.09" y="219.70" text-anchor="middle" textLength="14.46" lengthAdjust="spacingAndGlyphs">80</text>
<text x="292.97" y="219.70" text-anchor="middle" textLength="21.69" lengthAdjust="spacingAndGlyphs">100</text>
<text x="341.86" y="219.70" text-anchor="middle" textLength="21.69" lengthAdjust="spacingAndGlyphs">120</text>
<text x="390.75" y="219.70" text-anchor="middle" textLength="21.69" lengthAdjust="spacingAndGlyphs">140</text>
<text x="439.63" y="219.70" text-anchor="middle" textLength="21.69" lengthAdjust="spacingAndGlyphs">160</text>
<text x="488.51" y="219.70" text-anchor="middle" textLength="21.69" lengthAdjust="spacingAndGlyphs">180</text>
<text x="537.40" y="219.70" text-anchor="middle" textLength="21.69" lengthAdjust="spacingAndGlyphs">200</text>
<text x="42.3" y="206.30" text-anchor="end" textLength="7.23" lengthAdjust="spacingAndGlyphs">0</text>
<text x="42.3" y="174.02" text-anchor="end" textLength="14.46" lengthAdjust="spacingAndGlyphs">50</text>
<text x="42.3" y="141.73" text-anchor="end" textLength="21.69" lengthAdjust="spacingAndGlyphs">100</text>
<text x="42.3" y="109.45" text-anchor="end" textLength="21.69" lengthAdjust="spacingAndGlyphs">150</text>
<text x="42.3" y="77.17" text-anchor="end" textLength="21.69" lengthAdjust="spacingAndGlyphs">200</text>
<text x="42.3" y="44.88" text-anchor="end" textLength="21.69" lengthAdjust="spacingAndGlyphs">250</text>
<text x="42.3" y="12.60" text-anchor="end" textLength="21.69" lengthAdjust="spacingAndGlyphs">300</text>
<text class="lab ylab" x="0" y="0" text-anchor="middle" textLength="67.6" lengthAdjust="spacingAndGlyphs" transform="translate(12.8,104.15) rotate(-90)">Height (m)</text>
<text class="lab" x="292.97" y="238.7" text-anchor="middle">Range (km)</text>
<text x="48.55" y="489.25" text-anchor="middle" textLength="7.23" lengthAdjust="spacingAndGlyphs">0</text>
<text x="97.44" y="489.25" text-anchor="middle" textLength="14.46" lengthAdjust="spacingAndGlyphs">20</text>
<text x="146.32" y="489.25" text-anchor="middle" textLength="14.46" lengthAdjust="spacingAndGlyphs">40</text>
<text x="195.20" y="489.25" text-anchor="middle" textLength="14.46" lengthAdjust="spacingAndGlyphs">60</text>
<text x="244.09" y="489.25" text-anchor="middle" textLength="14.46" lengthAdjust="spacingAndGlyphs">80</text>
<text x="292.97" y="489.25" text-anchor="middle" textLength="21.69" lengthAdjust="spacingAndGlyphs">100</text>
<text x="341.86" y="489.25" text-anchor="middle" textLength="21.69" lengthAdjust="spacingAndGlyphs">120</text>
<text x="390.75" y="489.25" text-anchor="middle" textLength="21.69" lengthAdjust="spacingAndGlyphs">140</text>
<text x="439.63" y="489.25" text-anchor="middle" textLength="21.69" lengthAdjust="spacingAndGlyphs">160</text>
<text x="488.51" y="489.25" text-anchor="middle" textLength="21.69" lengthAdjust="spacingAndGlyphs">180</text>
<text x="537.40" y="489.25" text-anchor="middle" textLength="21.69" lengthAdjust="spacingAndGlyphs">200</text>
<text x="42.3" y="475.85" text-anchor="end" textLength="7.23" lengthAdjust="spacingAndGlyphs">0</text>
<text x="42.3" y="443.52" text-anchor="end" textLength="14.46" lengthAdjust="spacingAndGlyphs">50</text>
<text x="42.3" y="411.18" text-anchor="end" textLength="21.69" lengthAdjust="spacingAndGlyphs">100</text>
<text x="42.3" y="378.85" text-anchor="end" textLength="21.69" lengthAdjust="spacingAndGlyphs">150</text>
<text x="42.3" y="346.52" text-anchor="end" textLength="21.69" lengthAdjust="spacingAndGlyphs">200</text>
<text x="42.3" y="314.18" text-anchor="end" textLength="21.69" lengthAdjust="spacingAndGlyphs">250</text>
<text x="42.3" y="281.85" text-anchor="end" textLength="21.69" lengthAdjust="spacingAndGlyphs">300</text>
<text class="lab ylab" x="0" y="0" text-anchor="middle" textLength="67.6" lengthAdjust="spacingAndGlyphs" transform="translate(12.8,373.55) rotate(-90)">Height (m)</text>
<text class="lab" x="292.97" y="507.8" text-anchor="middle">Range (km)</text>
<!-- legend 1 -->
<rect x="410.3" y="20.2" width="113.8" height="66.6" fill="#fff" stroke="#333" stroke-width="1"/>
<g fill="none" stroke-width="1.05">
<line x1="414.2" y1="30.0" x2="443.8" y2="30.0" stroke="#000000"/>
<line x1="414.2" y1="45.8" x2="443.8" y2="45.8" stroke="#1a7fd0"/>
<line x1="414.2" y1="61.6" x2="443.8" y2="61.6" stroke="#f26230"/>
<line x1="414.2" y1="77.45" x2="443.8" y2="77.45" stroke="#f6b925"/>
</g>
<text class="leg" x="446.7" y="34.80" textLength="73.40" lengthAdjust="spacingAndGlyphs">Ray-VT 2.0 m</text>
<text class="leg" x="446.7" y="50.60" textLength="62.84" lengthAdjust="spacingAndGlyphs">Sevgi 2.0 m</text>
<text class="leg" x="446.7" y="66.40" textLength="62.84" lengthAdjust="spacingAndGlyphs">Sevgi 0.5 m</text>
<text class="leg" x="446.7" y="82.25" textLength="62.84" lengthAdjust="spacingAndGlyphs">Sevgi 0.1 m</text>
<!-- legend 2 -->
<rect x="410.3" y="289.7" width="113.8" height="34.3" fill="#fff" stroke="#333" stroke-width="1"/>
<line x1="414.2" y1="299.4" x2="443.8" y2="299.4" stroke="#000" stroke-width="1.05"/>
<line x1="414.2" y1="315.4" x2="443.8" y2="315.4" stroke="#1010ff" stroke-width="1.1" stroke-dasharray="4 1.2 1.4 1.3"/>
<text class="leg" x="446.7" y="304.20" textLength="73.40" lengthAdjust="spacingAndGlyphs">Ray-VT 2.0 m</text>
<text class="leg" x="446.7" y="320.00" textLength="73.40" lengthAdjust="spacingAndGlyphs">Ray-VT 0.1 m</text>
</svg>
</body></html>
